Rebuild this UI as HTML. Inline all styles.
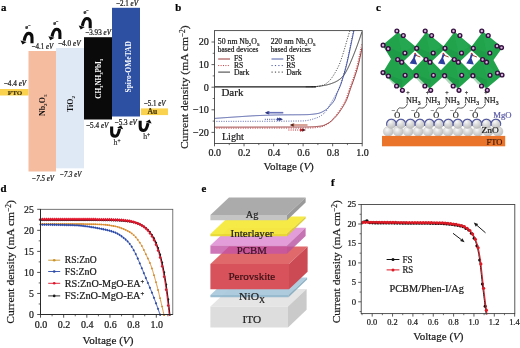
<!DOCTYPE html>
<html><head><meta charset="utf-8"><title>Figure</title>
<style>
html,body{margin:0;padding:0;background:#fff;}
svg{display:block;font-family:'Liberation Serif', serif;}
</style></head>
<body>
<svg width="520" height="348" viewBox="0 0 520 348">
<rect x="0" y="0" width="520" height="348" fill="#ffffff"/>
<g id="panel-a">
<text x="0.9" y="11" font-size="10.8" text-anchor="start" fill="#000" font-weight="bold" font-style="normal" stroke="#000" stroke-width="0.22" >a</text>
<rect x="28.5" y="51" width="27.5" height="120.5" fill="#f6bc9f"/>
<rect x="56" y="48" width="28" height="120.3" fill="#dfe9f6"/>
<rect x="84" y="37.2" width="28" height="82.3" fill="#0a0a0a"/>
<rect x="112" y="7.8" width="28" height="108.7" fill="#2d50a3"/>
<rect x="0" y="89" width="28.5" height="6.5" fill="#fad24e"/>
<rect x="140.8" y="108.4" width="27.2" height="6.7" fill="#fad24e"/>
<text x="3.8" y="86" font-size="7.3" text-anchor="start" fill="#1a1a1a" font-weight="normal" font-style="normal" textLength="22.5" lengthAdjust="spacingAndGlyphs" stroke="#1a1a1a" stroke-width="0.22" >&#8722;4.4 <tspan font-style="italic">eV</tspan></text>
<text x="31.5" y="49.3" font-size="7.3" text-anchor="start" fill="#1a1a1a" font-weight="normal" font-style="normal" textLength="21.8" lengthAdjust="spacingAndGlyphs" stroke="#1a1a1a" stroke-width="0.22" >&#8722;4.1 <tspan font-style="italic">eV</tspan></text>
<text x="58" y="45.9" font-size="7.3" text-anchor="start" fill="#1a1a1a" font-weight="normal" font-style="normal" textLength="22.6" lengthAdjust="spacingAndGlyphs" stroke="#1a1a1a" stroke-width="0.22" >&#8722;4.0 <tspan font-style="italic">eV</tspan></text>
<text x="85.3" y="34.6" font-size="7.3" text-anchor="start" fill="#1a1a1a" font-weight="normal" font-style="normal" textLength="25.7" lengthAdjust="spacingAndGlyphs" stroke="#1a1a1a" stroke-width="0.22" >&#8722;3.93 <tspan font-style="italic">eV</tspan></text>
<text x="116" y="5.6" font-size="7.3" text-anchor="start" fill="#1a1a1a" font-weight="normal" font-style="normal" textLength="22" lengthAdjust="spacingAndGlyphs" stroke="#1a1a1a" stroke-width="0.22" >&#8722;2.1 <tspan font-style="italic">eV</tspan></text>
<text x="143.8" y="105.6" font-size="7.3" text-anchor="start" fill="#1a1a1a" font-weight="normal" font-style="normal" textLength="21.8" lengthAdjust="spacingAndGlyphs" stroke="#1a1a1a" stroke-width="0.22" >&#8722;5.1 <tspan font-style="italic">eV</tspan></text>
<text x="86" y="127.5" font-size="7.3" text-anchor="start" fill="#1a1a1a" font-weight="normal" font-style="normal" textLength="22.5" lengthAdjust="spacingAndGlyphs" stroke="#1a1a1a" stroke-width="0.22" >&#8722;5.4 <tspan font-style="italic">eV</tspan></text>
<text x="114.6" y="124.8" font-size="7.3" text-anchor="start" fill="#1a1a1a" font-weight="normal" font-style="normal" textLength="22.4" lengthAdjust="spacingAndGlyphs" stroke="#1a1a1a" stroke-width="0.22" >&#8722;5.3 <tspan font-style="italic">eV</tspan></text>
<text x="31.5" y="180.5" font-size="7.3" text-anchor="start" fill="#1a1a1a" font-weight="normal" font-style="italic" textLength="22.5" lengthAdjust="spacingAndGlyphs" stroke="#1a1a1a" stroke-width="0.22" >&#8722;7.5 eV</text>
<text x="59.5" y="176.8" font-size="7.3" text-anchor="start" fill="#1a1a1a" font-weight="normal" font-style="italic" textLength="21.8" lengthAdjust="spacingAndGlyphs" stroke="#1a1a1a" stroke-width="0.22" >&#8722;7.3 eV</text>
<text x="15" y="95" font-size="7" text-anchor="middle" fill="#4a3a10" font-weight="bold" font-style="normal" stroke="#4a3a10" stroke-width="0.22" >FTO</text>
<text x="152.3" y="114.2" font-size="7.6" text-anchor="middle" fill="#4a3a10" font-weight="bold" font-style="normal" stroke="#4a3a10" stroke-width="0.22" >Au</text>
<text transform="translate(45,105.3) rotate(-90)" font-size="7.6" text-anchor="middle" fill="#111" font-weight="bold" textLength="21.6" lengthAdjust="spacingAndGlyphs">Nb<tspan font-size="65%" baseline-shift="-1.5px">2</tspan>O<tspan font-size="65%" baseline-shift="-1.5px">5</tspan></text>
<text transform="translate(73.2,104) rotate(-90)" font-size="7.6" text-anchor="middle" fill="#111" font-weight="bold" textLength="16" lengthAdjust="spacingAndGlyphs">TiO<tspan font-size="65%" baseline-shift="-1.5px">2</tspan></text>
<text transform="translate(101,78.8) rotate(-90)" font-size="7.6" text-anchor="middle" fill="#fff" font-weight="bold" textLength="40" lengthAdjust="spacingAndGlyphs">CH<tspan font-size="65%" baseline-shift="-1.5px">3</tspan>NH<tspan font-size="65%" baseline-shift="-1.5px">3</tspan>PbI<tspan font-size="65%" baseline-shift="-1.5px">3</tspan></text>
<text transform="translate(130.6,66.8) rotate(-90)" font-size="7.8" text-anchor="middle" fill="#fff" font-weight="bold" textLength="51.5" lengthAdjust="spacingAndGlyphs">Spiro-OMeTAD</text>
<path d="M32.00 43.20 L32.00 37.40 C32.00 34.40,30.60 33.40,28.40 33.40 C26.20 33.40,25.10 36.00,24.10 40.80" fill="none" stroke="#0c0c0c" stroke-width="3.1"/>
<polygon points="22.50,44.50 20.50,40.40 26.60,42.00" fill="#0c0c0c" stroke="none" stroke-width="0" opacity="1"/>
<text x="25.3" y="29.3" font-size="6.4" text-anchor="start" fill="#222" font-weight="bold" font-style="normal" stroke="#222" stroke-width="0.22" >e<tspan font-size="70%" baseline-shift="1.9px">&#8722;</tspan></text>
<path d="M59.90 39.00 L59.90 33.20 C59.90 30.20,58.50 29.20,56.30 29.20 C54.10 29.20,53.00 31.80,52.00 36.60" fill="none" stroke="#0c0c0c" stroke-width="3.1"/>
<polygon points="50.40,40.30 48.40,36.20 54.50,37.80" fill="#0c0c0c" stroke="none" stroke-width="0" opacity="1"/>
<text x="53.2" y="25.1" font-size="6.4" text-anchor="start" fill="#222" font-weight="bold" font-style="normal" stroke="#222" stroke-width="0.22" >e<tspan font-size="70%" baseline-shift="1.9px">&#8722;</tspan></text>
<path d="M90.20 28.30 L90.20 22.50 C90.20 19.50,88.80 18.50,86.60 18.50 C84.40 18.50,83.30 21.10,82.30 25.90" fill="none" stroke="#0c0c0c" stroke-width="3.1"/>
<polygon points="80.70,29.60 78.70,25.50 84.80,27.10" fill="#0c0c0c" stroke="none" stroke-width="0" opacity="1"/>
<text x="83.5" y="14.4" font-size="6.4" text-anchor="start" fill="#222" font-weight="bold" font-style="normal" stroke="#222" stroke-width="0.22" >e<tspan font-size="70%" baseline-shift="1.9px">&#8722;</tspan></text>
<path d="M111.65 126.50 L111.65 132.30 C111.65 135.30,113.05 136.30,115.25 136.30 C117.45 136.30,118.55 133.70,119.55 128.90" fill="none" stroke="#0c0c0c" stroke-width="3.1"/>
<polygon points="121.15,125.20 123.15,129.30 117.05,127.70" fill="#0c0c0c" stroke="none" stroke-width="0" opacity="1"/>
<path d="M140.15 120.70 L140.15 126.50 C140.15 129.50,141.55 130.50,143.75 130.50 C145.95 130.50,147.05 127.90,148.05 123.10" fill="none" stroke="#0c0c0c" stroke-width="3.1"/>
<polygon points="149.65,119.40 151.65,123.50 145.55,121.90" fill="#0c0c0c" stroke="none" stroke-width="0" opacity="1"/>
<text x="113.5" y="144.8" font-size="7.8" text-anchor="start" fill="#3a3a3a" font-weight="normal" font-style="normal" stroke="#3a3a3a" stroke-width="0.22" >h<tspan font-size="70%" baseline-shift="2.4px">+</tspan></text>
<text x="143.2" y="138.8" font-size="7.8" text-anchor="start" fill="#3a3a3a" font-weight="normal" font-style="normal" stroke="#3a3a3a" stroke-width="0.22" >h<tspan font-size="70%" baseline-shift="2.4px">+</tspan></text>
</g>
<g id="panel-b">
<text x="175.3" y="11.2" font-size="10.8" text-anchor="start" fill="#000" font-weight="bold" font-style="normal" stroke="#000" stroke-width="0.22" >b</text>
<clipPath id="clipb"><rect x="214.5" y="30.6" width="147.7" height="112.9"/></clipPath>
<path d="M311.68 86.72 L311.85 86.71 L312.02 86.71 L312.18 86.70 L312.35 86.70 L312.52 86.69 L312.69 86.68 L312.85 86.68 L313.02 86.67 L313.19 86.67 L313.36 86.66 L313.53 86.66 L313.69 86.65 L313.86 86.64 L314.03 86.64 L314.20 86.63 L314.36 86.62 L314.53 86.62 L314.70 86.61 L314.87 86.60 L315.03 86.59 L315.20 86.59 L315.37 86.58 L315.54 86.57 L315.71 86.56 L315.87 86.56 L316.04 86.55 L316.21 86.54 L316.38 86.53 L316.54 86.52 L316.71 86.51 L316.88 86.50 L317.05 86.50 L317.22 86.49 L317.38 86.48 L317.55 86.47 L317.72 86.46 L317.89 86.45 L318.05 86.43 L318.22 86.41 L318.39 86.39 L318.56 86.37 L318.72 86.35 L318.89 86.32 L319.06 86.29 L319.23 86.26 L319.40 86.23 L319.56 86.19 L319.73 86.15 L319.90 86.11 L320.07 86.07 L320.23 86.03 L320.40 85.99 L320.57 85.94 L320.74 85.90 L320.91 85.85 L321.07 85.80 L321.24 85.75 L321.41 85.69 L321.58 85.64 L321.74 85.59 L321.91 85.53 L322.08 85.47 L322.25 85.42 L322.41 85.36 L322.58 85.30 L322.75 85.24 L322.92 85.18 L323.09 85.12 L323.25 85.06 L323.42 85.00 L323.59 84.93 L323.76 84.86 L323.92 84.79 L324.09 84.72 L324.26 84.64 L324.43 84.55 L324.60 84.47 L324.76 84.38 L324.93 84.29 L325.10 84.19 L325.27 84.09 L325.43 83.99 L325.60 83.88 L325.77 83.77 L325.94 83.66 L326.11 83.55 L326.27 83.43 L326.44 83.31 L326.61 83.19 L326.78 83.07 L326.94 82.94 L327.11 82.81 L327.28 82.68 L327.45 82.55 L327.61 82.41 L327.78 82.27 L327.95 82.14 L328.12 81.99 L328.29 81.85 L328.45 81.71 L328.62 81.56 L328.79 81.41 L328.96 81.26 L329.12 81.11 L329.29 80.95 L329.46 80.78 L329.63 80.60 L329.80 80.42 L329.96 80.23 L330.13 80.04 L330.30 79.84 L330.47 79.63 L330.63 79.42 L330.80 79.20 L330.97 78.98 L331.14 78.76 L331.30 78.53 L331.47 78.30 L331.64 78.06 L331.81 77.82 L331.98 77.58 L332.14 77.34 L332.31 77.10 L332.48 76.85 L332.65 76.60 L332.81 76.35 L332.98 76.11 L333.15 75.86 L333.32 75.61 L333.49 75.35 L333.65 75.09 L333.82 74.83 L333.99 74.56 L334.16 74.29 L334.32 74.02 L334.49 73.74 L334.66 73.46 L334.83 73.17 L334.99 72.88 L335.16 72.59 L335.33 72.30 L335.50 72.00 L335.67 71.70 L335.83 71.40 L336.00 71.09 L336.17 70.78 L336.34 70.47 L336.50 70.16 L336.67 69.84 L336.84 69.53 L337.01 69.21 L337.18 68.88 L337.34 68.56 L337.51 68.24 L337.68 67.91 L337.85 67.57 L338.01 67.24 L338.18 66.89 L338.35 66.55 L338.52 66.19 L338.69 65.83 L338.85 65.45 L339.02 65.07 L339.19 64.68 L339.36 64.28 L339.52 63.86 L339.69 63.44 L339.86 63.02 L340.03 62.58 L340.19 62.14 L340.36 61.69 L340.53 61.23 L340.70 60.77 L340.87 60.30 L341.03 59.83 L341.20 59.34 L341.37 58.86 L341.54 58.36 L341.70 57.86 L341.87 57.36 L342.04 56.85 L342.21 56.34 L342.38 55.82 L342.54 55.29 L342.71 54.76 L342.88 54.23 L343.05 53.69 L343.21 53.15 L343.38 52.61 L343.55 52.06 L343.72 51.51 L343.88 50.95 L344.05 50.40 L344.22 49.84 L344.39 49.27 L344.56 48.71 L344.72 48.14 L344.89 47.57 L345.06 47.00 L345.23 46.43 L345.39 45.85 L345.56 45.28 L345.73 44.70 L345.90 44.12 L346.07 43.54 L346.23 42.96 L346.40 42.38 L346.57 41.80 L346.74 41.22 L346.90 40.64 L347.07 40.06 L347.24 39.48 L347.41 38.91 L347.57 38.33 L347.74 37.75 L347.91 37.18 L348.08 36.60 L348.25 36.03 L348.41 35.46 L348.58 34.89 L348.75 34.33 L348.92 33.76 L349.08 33.20 L349.25 32.64 L349.42 32.09 L349.59 31.54 L349.76 30.99 L349.92 30.44 L350.09 29.89 L350.26 29.35 L350.43 28.80 L350.59 28.25 L350.76 27.70 L350.93 27.14 L351.10 26.59 L351.27 26.04 L351.43 25.60 L351.60 25.60 L351.77 25.60 L351.94 25.60 L352.10 25.60 L352.27 25.60 L352.44 25.60 L352.61 25.60 L352.77 25.60 L352.94 25.60 L353.11 25.60 L353.28 25.60 L353.45 25.60 L353.61 25.60 L353.78 25.60 L353.95 25.60 L354.12 25.60 L354.28 25.60 L354.45 25.60 L354.62 25.60 L354.79 25.60 L354.96 25.60 L355.12 25.60 L355.29 25.60 L355.46 25.60 L355.63 25.60 L355.79 25.60 L355.96 25.60 L356.13 25.60 L356.30 25.60 L356.46 25.60 L356.63 25.60 L356.80 25.60 L356.97 25.60 L357.14 25.60 L357.30 25.60 L357.47 25.60 L357.64 25.60 L357.81 25.60 L357.97 25.60 L358.14 25.60 L358.31 25.60 L358.48 25.60 L358.65 25.60 L358.81 25.60 L358.98 25.60 L359.15 25.60 L359.32 25.60 L359.48 25.60 L359.65 25.60 L359.82 25.60 L359.99 25.60 L360.15 25.60 L360.32 25.60 L360.49 25.60 L360.66 25.60 L360.83 25.60 L360.99 25.60 L361.16 25.60 L361.33 25.60 L361.50 25.60 L361.66 25.60 L361.83 25.60 L362.00 25.60" fill="none" stroke="#222" stroke-width="1.0" stroke-dasharray="1 1.6" clip-path="url(#clipb)" stroke-linejoin="round"/>
<path d="M305.76 86.79 L305.95 86.79 L306.13 86.78 L306.32 86.78 L306.51 86.78 L306.70 86.78 L306.88 86.78 L307.07 86.77 L307.26 86.77 L307.45 86.77 L307.63 86.77 L307.82 86.77 L308.01 86.76 L308.20 86.76 L308.38 86.76 L308.57 86.75 L308.76 86.75 L308.95 86.75 L309.13 86.75 L309.32 86.74 L309.51 86.74 L309.70 86.74 L309.88 86.73 L310.07 86.73 L310.26 86.73 L310.45 86.72 L310.63 86.72 L310.82 86.72 L311.01 86.71 L311.20 86.71 L311.38 86.70 L311.57 86.70 L311.76 86.70 L311.95 86.69 L312.13 86.69 L312.32 86.69 L312.51 86.68 L312.70 86.68 L312.88 86.67 L313.07 86.67 L313.26 86.66 L313.45 86.66 L313.63 86.65 L313.82 86.65 L314.01 86.64 L314.20 86.63 L314.38 86.62 L314.57 86.61 L314.76 86.60 L314.95 86.59 L315.13 86.58 L315.32 86.57 L315.51 86.55 L315.70 86.54 L315.88 86.53 L316.07 86.51 L316.26 86.50 L316.45 86.48 L316.63 86.46 L316.82 86.45 L317.01 86.43 L317.20 86.41 L317.38 86.39 L317.57 86.37 L317.76 86.35 L317.95 86.33 L318.13 86.31 L318.32 86.29 L318.51 86.27 L318.70 86.25 L318.88 86.23 L319.07 86.20 L319.26 86.18 L319.45 86.16 L319.63 86.13 L319.82 86.11 L320.01 86.08 L320.19 86.06 L320.38 86.03 L320.57 86.01 L320.76 85.98 L320.94 85.96 L321.13 85.93 L321.32 85.90 L321.51 85.87 L321.69 85.85 L321.88 85.82 L322.07 85.79 L322.26 85.76 L322.44 85.74 L322.63 85.71 L322.82 85.68 L323.01 85.65 L323.19 85.62 L323.38 85.59 L323.57 85.56 L323.76 85.53 L323.94 85.50 L324.13 85.47 L324.32 85.44 L324.51 85.40 L324.69 85.37 L324.88 85.33 L325.07 85.30 L325.26 85.26 L325.44 85.22 L325.63 85.18 L325.82 85.14 L326.01 85.10 L326.19 85.06 L326.38 85.01 L326.57 84.97 L326.76 84.92 L326.94 84.88 L327.13 84.83 L327.32 84.78 L327.51 84.73 L327.69 84.68 L327.88 84.63 L328.07 84.58 L328.26 84.53 L328.44 84.48 L328.63 84.42 L328.82 84.37 L329.01 84.31 L329.19 84.26 L329.38 84.20 L329.57 84.14 L329.76 84.08 L329.94 84.02 L330.13 83.96 L330.32 83.90 L330.51 83.84 L330.69 83.77 L330.88 83.71 L331.07 83.65 L331.26 83.58 L331.44 83.51 L331.63 83.45 L331.82 83.38 L332.01 83.31 L332.19 83.24 L332.38 83.17 L332.57 83.10 L332.76 83.03 L332.94 82.95 L333.13 82.88 L333.32 82.81 L333.51 82.73 L333.69 82.66 L333.88 82.58 L334.07 82.50 L334.25 82.42 L334.44 82.34 L334.63 82.27 L334.82 82.18 L335.00 82.10 L335.19 82.02 L335.38 81.93 L335.57 81.84 L335.75 81.75 L335.94 81.66 L336.13 81.56 L336.32 81.47 L336.50 81.37 L336.69 81.26 L336.88 81.16 L337.07 81.05 L337.25 80.94 L337.44 80.83 L337.63 80.71 L337.82 80.60 L338.00 80.48 L338.19 80.36 L338.38 80.23 L338.57 80.10 L338.75 79.97 L338.94 79.84 L339.13 79.71 L339.32 79.57 L339.50 79.43 L339.69 79.29 L339.88 79.14 L340.07 78.99 L340.25 78.84 L340.44 78.69 L340.63 78.53 L340.82 78.38 L341.00 78.21 L341.19 78.05 L341.38 77.88 L341.57 77.71 L341.75 77.54 L341.94 77.36 L342.13 77.18 L342.32 77.00 L342.50 76.82 L342.69 76.63 L342.88 76.44 L343.07 76.24 L343.25 76.03 L343.44 75.81 L343.63 75.57 L343.82 75.32 L344.00 75.06 L344.19 74.79 L344.38 74.51 L344.57 74.22 L344.75 73.92 L344.94 73.61 L345.13 73.30 L345.32 72.98 L345.50 72.65 L345.69 72.32 L345.88 71.98 L346.07 71.64 L346.25 71.29 L346.44 70.95 L346.63 70.60 L346.82 70.24 L347.00 69.89 L347.19 69.54 L347.38 69.18 L347.57 68.83 L347.75 68.47 L347.94 68.10 L348.13 67.73 L348.31 67.34 L348.50 66.95 L348.69 66.56 L348.88 66.16 L349.06 65.75 L349.25 65.34 L349.44 64.92 L349.63 64.49 L349.81 64.07 L350.00 63.64 L350.19 63.20 L350.38 62.77 L350.56 62.33 L350.75 61.88 L350.94 61.44 L351.13 60.99 L351.31 60.54 L351.50 60.10 L351.69 59.65 L351.88 59.20 L352.06 58.75 L352.25 58.30 L352.44 57.85 L352.63 57.39 L352.81 56.93 L353.00 56.47 L353.19 56.01 L353.38 55.54 L353.56 55.08 L353.75 54.61 L353.94 54.13 L354.13 53.66 L354.31 53.18 L354.50 52.70 L354.69 52.22 L354.88 51.73 L355.06 51.24 L355.25 50.75 L355.44 50.26 L355.63 49.77 L355.81 49.27 L356.00 48.78 L356.19 48.28 L356.38 47.78 L356.56 47.27 L356.75 46.77 L356.94 46.26 L357.13 45.75 L357.31 45.25 L357.50 44.73 L357.69 44.22 L357.88 43.71 L358.06 43.19 L358.25 42.67 L358.44 42.14 L358.63 41.61 L358.81 41.08 L359.00 40.54 L359.19 40.00 L359.38 39.46 L359.56 38.92 L359.75 38.37 L359.94 37.82 L360.13 37.27 L360.31 36.72 L360.50 36.17 L360.69 35.61 L360.88 35.06 L361.06 34.50 L361.25 33.94 L361.44 33.39 L361.63 32.83 L361.81 32.27 L362.00 31.72" fill="none" stroke="#222" stroke-width="0.9" clip-path="url(#clipb)" stroke-linejoin="round"/>
<path d="M214.00 121.36 L214.49 121.36 L214.99 121.36 L215.48 121.36 L215.97 121.36 L216.47 121.36 L216.96 121.36 L217.45 121.36 L217.95 121.36 L218.44 121.36 L218.93 121.36 L219.43 121.36 L219.92 121.36 L220.41 121.36 L220.91 121.36 L221.40 121.36 L221.89 121.36 L222.39 121.36 L222.88 121.36 L223.37 121.36 L223.87 121.36 L224.36 121.36 L224.85 121.36 L225.35 121.36 L225.84 121.36 L226.33 121.36 L226.83 121.36 L227.32 121.36 L227.81 121.36 L228.31 121.36 L228.80 121.36 L229.29 121.36 L229.79 121.35 L230.28 121.35 L230.77 121.35 L231.27 121.35 L231.76 121.35 L232.25 121.35 L232.75 121.35 L233.24 121.35 L233.73 121.35 L234.23 121.35 L234.72 121.35 L235.21 121.35 L235.71 121.35 L236.20 121.35 L236.69 121.34 L237.19 121.34 L237.68 121.34 L238.17 121.34 L238.67 121.34 L239.16 121.34 L239.65 121.34 L240.15 121.34 L240.64 121.34 L241.13 121.34 L241.63 121.34 L242.12 121.34 L242.61 121.33 L243.11 121.33 L243.60 121.33 L244.09 121.33 L244.59 121.33 L245.08 121.33 L245.57 121.33 L246.07 121.33 L246.56 121.33 L247.05 121.33 L247.55 121.32 L248.04 121.32 L248.53 121.32 L249.03 121.32 L249.52 121.32 L250.01 121.32 L250.51 121.32 L251.00 121.32 L251.49 121.32 L251.99 121.31 L252.48 121.31 L252.97 121.31 L253.47 121.31 L253.96 121.31 L254.45 121.31 L254.95 121.31 L255.44 121.31 L255.93 121.30 L256.43 121.30 L256.92 121.30 L257.41 121.30 L257.91 121.30 L258.40 121.30 L258.89 121.30 L259.39 121.30 L259.88 121.29 L260.37 121.29 L260.87 121.29 L261.36 121.29 L261.85 121.29 L262.35 121.29 L262.84 121.29 L263.33 121.28 L263.83 121.28 L264.32 121.28 L264.81 121.28 L265.31 121.28 L265.80 121.28 L266.29 121.28 L266.79 121.27 L267.28 121.27 L267.77 121.27 L268.27 121.27 L268.76 121.27 L269.25 121.26 L269.75 121.26 L270.24 121.26 L270.73 121.26 L271.23 121.26 L271.72 121.25 L272.21 121.25 L272.71 121.25 L273.20 121.25 L273.69 121.24 L274.19 121.24 L274.68 121.24 L275.17 121.24 L275.67 121.23 L276.16 121.23 L276.65 121.23 L277.15 121.23 L277.64 121.22 L278.13 121.22 L278.63 121.22 L279.12 121.21 L279.61 121.21 L280.11 121.21 L280.60 121.20 L281.09 121.20 L281.59 121.20 L282.08 121.19 L282.57 121.19 L283.07 121.18 L283.56 121.18 L284.05 121.17 L284.55 121.17 L285.04 121.17 L285.53 121.16 L286.03 121.16 L286.52 121.15 L287.01 121.15 L287.51 121.14 L288.00 121.14 L288.49 121.13 L288.99 121.13 L289.48 121.12 L289.97 121.12 L290.47 121.11 L290.96 121.10 L291.45 121.10 L291.95 121.09 L292.44 121.09 L292.93 121.08 L293.43 121.07 L293.92 121.07 L294.41 121.06 L294.91 121.05 L295.40 121.04 L295.89 121.04 L296.39 121.03 L296.88 121.02 L297.37 121.01 L297.87 121.01 L298.36 121.00 L298.85 120.99 L299.35 120.98 L299.84 120.97 L300.33 120.96 L300.83 120.96 L301.32 120.95 L301.81 120.94 L302.31 120.93 L302.80 120.92 L303.29 120.90 L303.79 120.88 L304.28 120.85 L304.77 120.81 L305.27 120.76 L305.76 120.70 L306.25 120.64 L306.75 120.56 L307.24 120.48 L307.73 120.39 L308.23 120.30 L308.72 120.20 L309.21 120.09 L309.71 119.98 L310.20 119.86 L310.69 119.73 L311.19 119.60 L311.68 119.47 L312.17 119.33 L312.67 119.18 L313.16 119.03 L313.65 118.88 L314.15 118.72 L314.64 118.56 L315.13 118.39 L315.63 118.22 L316.12 118.05 L316.61 117.88 L317.11 117.70 L317.60 117.52 L318.09 117.32 L318.59 117.10 L319.08 116.86 L319.57 116.60 L320.07 116.31 L320.56 116.01 L321.05 115.68 L321.55 115.33 L322.04 114.97 L322.53 114.58 L323.03 114.18 L323.52 113.75 L324.01 113.31 L324.51 112.85 L325.00 112.37 L325.49 111.88 L325.99 111.33 L326.48 110.68 L326.97 109.94 L327.47 109.13 L327.96 108.27 L328.45 107.38 L328.95 106.48 L329.44 105.59 L329.93 104.72 L330.43 103.89 L330.92 103.07 L331.41 102.24 L331.91 101.41 L332.40 100.57 L332.89 99.72 L333.39 98.85 L333.88 97.97 L334.37 97.08 L334.87 96.18 L335.36 95.28 L335.85 94.38 L336.35 93.50 L336.84 92.64 L337.33 91.78 L337.83 90.89 L338.32 89.92 L338.81 88.86 L339.31 87.73 L339.80 86.52 L340.29 85.24 L340.79 83.88 L341.28 82.40 L341.77 80.84 L342.27 79.20 L342.76 77.52 L343.25 75.83 L343.75 74.14 L344.24 72.44 L344.73 70.71 L345.23 68.91 L345.72 67.02 L346.21 65.02 L346.71 62.93 L347.20 60.76 L347.69 58.52 L348.19 56.22 L348.68 53.87 L349.17 51.48 L349.67 49.06 L350.16 46.62 L350.65 44.18 L351.15 41.73 L351.64 39.30 L352.13 36.90 L352.63 34.53 L353.12 32.20 L353.61 29.92 L354.11 27.67 L354.60 25.60 L355.09 25.60 L355.59 25.60 L356.08 25.60 L356.57 25.60 L357.07 25.60 L357.56 25.60 L358.05 25.60 L358.55 25.60 L359.04 25.60 L359.53 25.60 L360.03 25.60 L360.52 25.60 L361.01 25.60 L361.51 25.60 L362.00 25.60" fill="none" stroke="#3b4a9c" stroke-width="0.9" stroke-dasharray="1 1.4" clip-path="url(#clipb)" stroke-linejoin="round"/>
<path d="M214.00 118.47 L214.49 118.43 L214.99 118.39 L215.48 118.35 L215.97 118.32 L216.47 118.28 L216.96 118.24 L217.45 118.21 L217.95 118.17 L218.44 118.14 L218.93 118.10 L219.43 118.06 L219.92 118.03 L220.41 117.99 L220.91 117.96 L221.40 117.92 L221.89 117.88 L222.39 117.85 L222.88 117.81 L223.37 117.78 L223.87 117.74 L224.36 117.71 L224.85 117.67 L225.35 117.64 L225.84 117.60 L226.33 117.57 L226.83 117.54 L227.32 117.50 L227.81 117.47 L228.31 117.43 L228.80 117.40 L229.29 117.37 L229.79 117.33 L230.28 117.30 L230.77 117.26 L231.27 117.23 L231.76 117.20 L232.25 117.17 L232.75 117.13 L233.24 117.10 L233.73 117.07 L234.23 117.03 L234.72 117.00 L235.21 116.97 L235.71 116.94 L236.20 116.91 L236.69 116.87 L237.19 116.84 L237.68 116.81 L238.17 116.78 L238.67 116.74 L239.16 116.71 L239.65 116.68 L240.15 116.64 L240.64 116.61 L241.13 116.58 L241.63 116.54 L242.12 116.51 L242.61 116.48 L243.11 116.44 L243.60 116.41 L244.09 116.38 L244.59 116.34 L245.08 116.31 L245.57 116.28 L246.07 116.25 L246.56 116.22 L247.05 116.18 L247.55 116.15 L248.04 116.12 L248.53 116.09 L249.03 116.06 L249.52 116.03 L250.01 116.00 L250.51 115.97 L251.00 115.94 L251.49 115.91 L251.99 115.88 L252.48 115.85 L252.97 115.83 L253.47 115.80 L253.96 115.77 L254.45 115.75 L254.95 115.72 L255.44 115.70 L255.93 115.68 L256.43 115.65 L256.92 115.63 L257.41 115.61 L257.91 115.59 L258.40 115.57 L258.89 115.55 L259.39 115.53 L259.88 115.51 L260.37 115.49 L260.87 115.47 L261.36 115.45 L261.85 115.43 L262.35 115.41 L262.84 115.39 L263.33 115.37 L263.83 115.36 L264.32 115.34 L264.81 115.32 L265.31 115.30 L265.80 115.28 L266.29 115.27 L266.79 115.25 L267.28 115.23 L267.77 115.22 L268.27 115.20 L268.76 115.18 L269.25 115.17 L269.75 115.15 L270.24 115.14 L270.73 115.12 L271.23 115.11 L271.72 115.09 L272.21 115.08 L272.71 115.06 L273.20 115.05 L273.69 115.04 L274.19 115.03 L274.68 115.01 L275.17 115.00 L275.67 114.99 L276.16 114.98 L276.65 114.97 L277.15 114.96 L277.64 114.95 L278.13 114.94 L278.63 114.93 L279.12 114.92 L279.61 114.91 L280.11 114.91 L280.60 114.90 L281.09 114.89 L281.59 114.89 L282.08 114.88 L282.57 114.87 L283.07 114.87 L283.56 114.86 L284.05 114.86 L284.55 114.85 L285.04 114.85 L285.53 114.85 L286.03 114.84 L286.52 114.84 L287.01 114.83 L287.51 114.83 L288.00 114.83 L288.49 114.83 L288.99 114.82 L289.48 114.82 L289.97 114.82 L290.47 114.81 L290.96 114.81 L291.45 114.81 L291.95 114.81 L292.44 114.80 L292.93 114.80 L293.43 114.80 L293.92 114.80 L294.41 114.79 L294.91 114.79 L295.40 114.79 L295.89 114.78 L296.39 114.78 L296.88 114.78 L297.37 114.77 L297.87 114.77 L298.36 114.77 L298.85 114.76 L299.35 114.76 L299.84 114.75 L300.33 114.75 L300.83 114.74 L301.32 114.74 L301.81 114.73 L302.31 114.73 L302.80 114.72 L303.29 114.71 L303.79 114.71 L304.28 114.70 L304.77 114.69 L305.27 114.68 L305.76 114.67 L306.25 114.66 L306.75 114.65 L307.24 114.63 L307.73 114.61 L308.23 114.59 L308.72 114.56 L309.21 114.53 L309.71 114.49 L310.20 114.45 L310.69 114.41 L311.19 114.37 L311.68 114.32 L312.17 114.27 L312.67 114.22 L313.16 114.16 L313.65 114.10 L314.15 114.04 L314.64 113.98 L315.13 113.91 L315.63 113.84 L316.12 113.77 L316.61 113.69 L317.11 113.62 L317.60 113.53 L318.09 113.44 L318.59 113.32 L319.08 113.18 L319.57 113.03 L320.07 112.85 L320.56 112.66 L321.05 112.46 L321.55 112.24 L322.04 112.00 L322.53 111.75 L323.03 111.49 L323.52 111.22 L324.01 110.94 L324.51 110.65 L325.00 110.36 L325.49 110.05 L325.99 109.73 L326.48 109.35 L326.97 108.93 L327.47 108.47 L327.96 107.98 L328.45 107.47 L328.95 106.93 L329.44 106.38 L329.93 105.82 L330.43 105.25 L330.92 104.70 L331.41 104.15 L331.91 103.60 L332.40 103.03 L332.89 102.42 L333.39 101.76 L333.88 101.02 L334.37 100.20 L334.87 99.18 L335.36 97.94 L335.85 96.57 L336.35 95.16 L336.84 93.80 L337.33 92.57 L337.83 91.42 L338.32 90.31 L338.81 89.23 L339.31 88.12 L339.80 86.97 L340.29 85.75 L340.79 84.43 L341.28 83.01 L341.77 81.50 L342.27 79.93 L342.76 78.32 L343.25 76.69 L343.75 75.06 L344.24 73.41 L344.73 71.72 L345.23 69.97 L345.72 68.13 L346.21 66.19 L346.71 64.18 L347.20 62.10 L347.69 59.96 L348.19 57.77 L348.68 55.53 L349.17 53.25 L349.67 50.93 L350.16 48.60 L350.65 46.24 L351.15 43.88 L351.64 41.51 L352.13 39.15 L352.63 36.80 L353.12 34.47 L353.61 32.17 L354.11 29.90 L354.60 27.63 L355.09 25.60 L355.59 25.60 L356.08 25.60 L356.57 25.60 L357.07 25.60 L357.56 25.60 L358.05 25.60 L358.55 25.60 L359.04 25.60 L359.53 25.60 L360.03 25.60 L360.52 25.60 L361.01 25.60 L361.51 25.60 L362.00 25.60" fill="none" stroke="#3b4a9c" stroke-width="0.9" clip-path="url(#clipb)" stroke-linejoin="round"/>
<path d="M214.00 128.28 L214.49 128.28 L214.99 128.28 L215.48 128.28 L215.97 128.28 L216.47 128.28 L216.96 128.27 L217.45 128.27 L217.95 128.27 L218.44 128.27 L218.93 128.27 L219.43 128.27 L219.92 128.27 L220.41 128.27 L220.91 128.27 L221.40 128.27 L221.89 128.27 L222.39 128.27 L222.88 128.27 L223.37 128.27 L223.87 128.27 L224.36 128.27 L224.85 128.26 L225.35 128.26 L225.84 128.26 L226.33 128.26 L226.83 128.26 L227.32 128.26 L227.81 128.26 L228.31 128.26 L228.80 128.26 L229.29 128.26 L229.79 128.26 L230.28 128.26 L230.77 128.26 L231.27 128.25 L231.76 128.25 L232.25 128.25 L232.75 128.25 L233.24 128.25 L233.73 128.25 L234.23 128.25 L234.72 128.25 L235.21 128.25 L235.71 128.25 L236.20 128.25 L236.69 128.25 L237.19 128.24 L237.68 128.24 L238.17 128.24 L238.67 128.24 L239.16 128.24 L239.65 128.24 L240.15 128.24 L240.64 128.24 L241.13 128.24 L241.63 128.24 L242.12 128.24 L242.61 128.23 L243.11 128.23 L243.60 128.23 L244.09 128.23 L244.59 128.23 L245.08 128.23 L245.57 128.23 L246.07 128.23 L246.56 128.23 L247.05 128.23 L247.55 128.22 L248.04 128.22 L248.53 128.22 L249.03 128.22 L249.52 128.22 L250.01 128.22 L250.51 128.22 L251.00 128.22 L251.49 128.22 L251.99 128.22 L252.48 128.21 L252.97 128.21 L253.47 128.21 L253.96 128.21 L254.45 128.21 L254.95 128.21 L255.44 128.21 L255.93 128.21 L256.43 128.21 L256.92 128.20 L257.41 128.20 L257.91 128.20 L258.40 128.20 L258.89 128.20 L259.39 128.20 L259.88 128.20 L260.37 128.20 L260.87 128.20 L261.36 128.19 L261.85 128.19 L262.35 128.19 L262.84 128.19 L263.33 128.19 L263.83 128.19 L264.32 128.19 L264.81 128.19 L265.31 128.19 L265.80 128.18 L266.29 128.18 L266.79 128.18 L267.28 128.18 L267.77 128.18 L268.27 128.18 L268.76 128.18 L269.25 128.18 L269.75 128.17 L270.24 128.17 L270.73 128.17 L271.23 128.17 L271.72 128.17 L272.21 128.17 L272.71 128.17 L273.20 128.17 L273.69 128.17 L274.19 128.16 L274.68 128.16 L275.17 128.16 L275.67 128.16 L276.16 128.16 L276.65 128.16 L277.15 128.16 L277.64 128.16 L278.13 128.16 L278.63 128.16 L279.12 128.15 L279.61 128.15 L280.11 128.15 L280.60 128.15 L281.09 128.15 L281.59 128.15 L282.08 128.15 L282.57 128.15 L283.07 128.15 L283.56 128.15 L284.05 128.15 L284.55 128.14 L285.04 128.14 L285.53 128.14 L286.03 128.14 L286.52 128.14 L287.01 128.14 L287.51 128.14 L288.00 128.14 L288.49 128.14 L288.99 128.14 L289.48 128.13 L289.97 128.13 L290.47 128.13 L290.96 128.13 L291.45 128.13 L291.95 128.13 L292.44 128.13 L292.93 128.13 L293.43 128.12 L293.92 128.12 L294.41 128.12 L294.91 128.12 L295.40 128.12 L295.89 128.12 L296.39 128.12 L296.88 128.11 L297.37 128.11 L297.87 128.11 L298.36 128.11 L298.85 128.11 L299.35 128.10 L299.84 128.10 L300.33 128.10 L300.83 128.10 L301.32 128.10 L301.81 128.09 L302.31 128.09 L302.80 128.09 L303.29 128.09 L303.79 128.08 L304.28 128.08 L304.77 128.08 L305.27 128.07 L305.76 128.07 L306.25 128.07 L306.75 128.07 L307.24 128.06 L307.73 128.06 L308.23 128.06 L308.72 128.05 L309.21 128.04 L309.71 128.03 L310.20 128.02 L310.69 128.00 L311.19 127.98 L311.68 127.95 L312.17 127.93 L312.67 127.90 L313.16 127.87 L313.65 127.83 L314.15 127.79 L314.64 127.75 L315.13 127.71 L315.63 127.66 L316.12 127.62 L316.61 127.57 L317.11 127.51 L317.60 127.46 L318.09 127.40 L318.59 127.34 L319.08 127.28 L319.57 127.22 L320.07 127.15 L320.56 127.07 L321.05 126.96 L321.55 126.84 L322.04 126.69 L322.53 126.53 L323.03 126.35 L323.52 126.15 L324.01 125.94 L324.51 125.71 L325.00 125.47 L325.49 125.22 L325.99 124.96 L326.48 124.68 L326.97 124.40 L327.47 124.11 L327.96 123.82 L328.45 123.49 L328.95 123.12 L329.44 122.70 L329.93 122.24 L330.43 121.75 L330.92 121.23 L331.41 120.68 L331.91 120.11 L332.40 119.53 L332.89 118.93 L333.39 118.33 L333.88 117.72 L334.37 117.12 L334.87 116.52 L335.36 115.92 L335.85 115.31 L336.35 114.68 L336.84 114.04 L337.33 113.39 L337.83 112.72 L338.32 112.04 L338.81 111.34 L339.31 110.62 L339.80 109.90 L340.29 109.15 L340.79 108.39 L341.28 107.62 L341.77 106.85 L342.27 106.05 L342.76 105.24 L343.25 104.39 L343.75 103.51 L344.24 102.59 L344.73 101.62 L345.23 100.59 L345.72 99.48 L346.21 98.26 L346.71 96.93 L347.20 95.52 L347.69 94.06 L348.19 92.56 L348.68 91.06 L349.17 89.57 L349.67 88.11 L350.16 86.71 L350.65 85.34 L351.15 83.99 L351.64 82.65 L352.13 81.29 L352.63 79.92 L353.12 78.52 L353.61 77.07 L354.11 75.57 L354.60 74.03 L355.09 72.45 L355.59 70.83 L356.08 69.16 L356.57 67.42 L357.07 65.60 L357.56 63.69 L358.05 61.63 L358.55 59.45 L359.04 57.16 L359.53 54.81 L360.03 52.44 L360.52 50.08 L361.01 47.77 L361.51 45.47 L362.00 43.17" fill="none" stroke="#c0272d" stroke-width="0.9" stroke-dasharray="1 1.4" clip-path="url(#clipb)" stroke-linejoin="round"/>
<path d="M214.00 127.16 L214.49 127.16 L214.99 127.16 L215.48 127.16 L215.97 127.16 L216.47 127.16 L216.96 127.16 L217.45 127.16 L217.95 127.16 L218.44 127.16 L218.93 127.16 L219.43 127.16 L219.92 127.16 L220.41 127.16 L220.91 127.15 L221.40 127.15 L221.89 127.15 L222.39 127.15 L222.88 127.15 L223.37 127.15 L223.87 127.15 L224.36 127.15 L224.85 127.15 L225.35 127.15 L225.84 127.15 L226.33 127.15 L226.83 127.15 L227.32 127.15 L227.81 127.14 L228.31 127.14 L228.80 127.14 L229.29 127.14 L229.79 127.14 L230.28 127.14 L230.77 127.14 L231.27 127.14 L231.76 127.14 L232.25 127.14 L232.75 127.14 L233.24 127.14 L233.73 127.14 L234.23 127.13 L234.72 127.13 L235.21 127.13 L235.71 127.13 L236.20 127.13 L236.69 127.13 L237.19 127.13 L237.68 127.13 L238.17 127.13 L238.67 127.13 L239.16 127.13 L239.65 127.12 L240.15 127.12 L240.64 127.12 L241.13 127.12 L241.63 127.12 L242.12 127.12 L242.61 127.12 L243.11 127.12 L243.60 127.12 L244.09 127.12 L244.59 127.12 L245.08 127.11 L245.57 127.11 L246.07 127.11 L246.56 127.11 L247.05 127.11 L247.55 127.11 L248.04 127.11 L248.53 127.11 L249.03 127.11 L249.52 127.11 L250.01 127.10 L250.51 127.10 L251.00 127.10 L251.49 127.10 L251.99 127.10 L252.48 127.10 L252.97 127.10 L253.47 127.10 L253.96 127.10 L254.45 127.09 L254.95 127.09 L255.44 127.09 L255.93 127.09 L256.43 127.09 L256.92 127.09 L257.41 127.09 L257.91 127.09 L258.40 127.09 L258.89 127.08 L259.39 127.08 L259.88 127.08 L260.37 127.08 L260.87 127.08 L261.36 127.08 L261.85 127.08 L262.35 127.08 L262.84 127.08 L263.33 127.07 L263.83 127.07 L264.32 127.07 L264.81 127.07 L265.31 127.07 L265.80 127.07 L266.29 127.07 L266.79 127.07 L267.28 127.07 L267.77 127.06 L268.27 127.06 L268.76 127.06 L269.25 127.06 L269.75 127.06 L270.24 127.06 L270.73 127.06 L271.23 127.06 L271.72 127.06 L272.21 127.05 L272.71 127.05 L273.20 127.05 L273.69 127.05 L274.19 127.05 L274.68 127.05 L275.17 127.05 L275.67 127.05 L276.16 127.04 L276.65 127.04 L277.15 127.04 L277.64 127.04 L278.13 127.04 L278.63 127.04 L279.12 127.04 L279.61 127.04 L280.11 127.04 L280.60 127.04 L281.09 127.04 L281.59 127.03 L282.08 127.03 L282.57 127.03 L283.07 127.03 L283.56 127.03 L284.05 127.03 L284.55 127.03 L285.04 127.03 L285.53 127.03 L286.03 127.03 L286.52 127.03 L287.01 127.02 L287.51 127.02 L288.00 127.02 L288.49 127.02 L288.99 127.02 L289.48 127.02 L289.97 127.02 L290.47 127.02 L290.96 127.02 L291.45 127.01 L291.95 127.01 L292.44 127.01 L292.93 127.01 L293.43 127.01 L293.92 127.01 L294.41 127.01 L294.91 127.00 L295.40 127.00 L295.89 127.00 L296.39 127.00 L296.88 127.00 L297.37 127.00 L297.87 126.99 L298.36 126.99 L298.85 126.99 L299.35 126.99 L299.84 126.99 L300.33 126.98 L300.83 126.98 L301.32 126.98 L301.81 126.98 L302.31 126.98 L302.80 126.97 L303.29 126.97 L303.79 126.97 L304.28 126.97 L304.77 126.96 L305.27 126.96 L305.76 126.96 L306.25 126.95 L306.75 126.95 L307.24 126.95 L307.73 126.94 L308.23 126.94 L308.72 126.94 L309.21 126.93 L309.71 126.92 L310.20 126.91 L310.69 126.89 L311.19 126.87 L311.68 126.85 L312.17 126.83 L312.67 126.81 L313.16 126.78 L313.65 126.75 L314.15 126.72 L314.64 126.68 L315.13 126.65 L315.63 126.61 L316.12 126.57 L316.61 126.53 L317.11 126.48 L317.60 126.43 L318.09 126.38 L318.59 126.33 L319.08 126.28 L319.57 126.22 L320.07 126.16 L320.56 126.10 L321.05 126.04 L321.55 125.96 L322.04 125.86 L322.53 125.74 L323.03 125.59 L323.52 125.42 L324.01 125.24 L324.51 125.04 L325.00 124.82 L325.49 124.59 L325.99 124.35 L326.48 124.10 L326.97 123.84 L327.47 123.57 L327.96 123.29 L328.45 123.01 L328.95 122.73 L329.44 122.43 L329.93 122.11 L330.43 121.75 L330.92 121.37 L331.41 120.97 L331.91 120.54 L332.40 120.10 L332.89 119.63 L333.39 119.15 L333.88 118.66 L334.37 118.15 L334.87 117.63 L335.36 117.10 L335.85 116.57 L336.35 116.02 L336.84 115.44 L337.33 114.83 L337.83 114.20 L338.32 113.55 L338.81 112.87 L339.31 112.17 L339.80 111.46 L340.29 110.73 L340.79 109.99 L341.28 109.23 L341.77 108.47 L342.27 107.70 L342.76 106.92 L343.25 106.13 L343.75 105.32 L344.24 104.48 L344.73 103.60 L345.23 102.68 L345.72 101.72 L346.21 100.70 L346.71 99.60 L347.20 98.38 L347.69 97.06 L348.19 95.66 L348.68 94.21 L349.17 92.71 L349.67 91.21 L350.16 89.71 L350.65 88.25 L351.15 86.84 L351.64 85.47 L352.13 84.12 L352.63 82.78 L353.12 81.43 L353.61 80.06 L354.11 78.66 L354.60 77.22 L355.09 75.72 L355.59 74.18 L356.08 72.61 L356.57 71.00 L357.07 69.33 L357.56 67.60 L358.05 65.79 L358.55 63.89 L359.04 61.85 L359.53 59.67 L360.03 57.39 L360.52 55.05 L361.01 52.68 L361.51 50.32 L362.00 48.00" fill="none" stroke="#8c1f1f" stroke-width="0.9" clip-path="url(#clipb)" stroke-linejoin="round"/>
<line x1="214.5" y1="86.9" x2="316.12" y2="86.9" stroke="#1a1a1a" stroke-width="1.15"/>
<rect x="214.5" y="30.6" width="147.7" height="112.9" fill="none" stroke="#444" stroke-width="0.9"/>
<line x1="211.5" y1="42.00000000000001" x2="214.5" y2="42.00000000000001" stroke="#333" stroke-width="0.8"/>
<text x="208.9" y="45.300000000000004" font-size="10.2" text-anchor="end" fill="#1a1a1a" font-weight="normal" font-style="normal" stroke="#1a1a1a" stroke-width="0.22" >20</text>
<line x1="211.5" y1="64.60000000000001" x2="214.5" y2="64.60000000000001" stroke="#333" stroke-width="0.8"/>
<text x="208.9" y="67.9" font-size="10.2" text-anchor="end" fill="#1a1a1a" font-weight="normal" font-style="normal" stroke="#1a1a1a" stroke-width="0.22" >10</text>
<line x1="211.5" y1="87.2" x2="214.5" y2="87.2" stroke="#333" stroke-width="0.8"/>
<text x="208.9" y="90.5" font-size="10.2" text-anchor="end" fill="#1a1a1a" font-weight="normal" font-style="normal" stroke="#1a1a1a" stroke-width="0.22" >0</text>
<line x1="211.5" y1="109.8" x2="214.5" y2="109.8" stroke="#333" stroke-width="0.8"/>
<text x="208.9" y="113.1" font-size="10.2" text-anchor="end" fill="#1a1a1a" font-weight="normal" font-style="normal" stroke="#1a1a1a" stroke-width="0.22" >&#8722;10</text>
<line x1="211.5" y1="132.4" x2="214.5" y2="132.4" stroke="#333" stroke-width="0.8"/>
<text x="208.9" y="135.70000000000002" font-size="10.2" text-anchor="end" fill="#1a1a1a" font-weight="normal" font-style="normal" stroke="#1a1a1a" stroke-width="0.22" >&#8722;20</text>
<line x1="212.7" y1="53.300000000000004" x2="214.5" y2="53.300000000000004" stroke="#333" stroke-width="0.7"/>
<line x1="212.7" y1="75.9" x2="214.5" y2="75.9" stroke="#333" stroke-width="0.7"/>
<line x1="212.7" y1="98.5" x2="214.5" y2="98.5" stroke="#333" stroke-width="0.7"/>
<line x1="212.7" y1="121.1" x2="214.5" y2="121.1" stroke="#333" stroke-width="0.7"/>
<line x1="214.5" y1="143.5" x2="214.5" y2="146.3" stroke="#333" stroke-width="0.8"/>
<text x="214.8" y="156" font-size="10.0" text-anchor="middle" fill="#1a1a1a" font-weight="normal" font-style="normal" stroke="#1a1a1a" stroke-width="0.22" >0.0</text>
<line x1="244.04" y1="143.5" x2="244.04" y2="146.3" stroke="#333" stroke-width="0.8"/>
<text x="244.34" y="156" font-size="10.0" text-anchor="middle" fill="#1a1a1a" font-weight="normal" font-style="normal" stroke="#1a1a1a" stroke-width="0.22" >0.2</text>
<line x1="273.58" y1="143.5" x2="273.58" y2="146.3" stroke="#333" stroke-width="0.8"/>
<text x="273.88" y="156" font-size="10.0" text-anchor="middle" fill="#1a1a1a" font-weight="normal" font-style="normal" stroke="#1a1a1a" stroke-width="0.22" >0.4</text>
<line x1="303.12" y1="143.5" x2="303.12" y2="146.3" stroke="#333" stroke-width="0.8"/>
<text x="303.42" y="156" font-size="10.0" text-anchor="middle" fill="#1a1a1a" font-weight="normal" font-style="normal" stroke="#1a1a1a" stroke-width="0.22" >0.6</text>
<line x1="332.65999999999997" y1="143.5" x2="332.65999999999997" y2="146.3" stroke="#333" stroke-width="0.8"/>
<text x="332.96" y="156" font-size="10.0" text-anchor="middle" fill="#1a1a1a" font-weight="normal" font-style="normal" stroke="#1a1a1a" stroke-width="0.22" >0.8</text>
<line x1="362.2" y1="143.5" x2="362.2" y2="146.3" stroke="#333" stroke-width="0.8"/>
<text x="362.5" y="156" font-size="10.0" text-anchor="middle" fill="#1a1a1a" font-weight="normal" font-style="normal" stroke="#1a1a1a" stroke-width="0.22" >1.0</text>
<line x1="229.27" y1="143.5" x2="229.27" y2="145.1" stroke="#333" stroke-width="0.7"/>
<line x1="258.81" y1="143.5" x2="258.81" y2="145.1" stroke="#333" stroke-width="0.7"/>
<line x1="288.35" y1="143.5" x2="288.35" y2="145.1" stroke="#333" stroke-width="0.7"/>
<line x1="317.89" y1="143.5" x2="317.89" y2="145.1" stroke="#333" stroke-width="0.7"/>
<line x1="347.43" y1="143.5" x2="347.43" y2="145.1" stroke="#333" stroke-width="0.7"/>
<text x="263.5" y="170.4" font-size="11" text-anchor="start" fill="#1a1a1a" font-weight="normal" font-style="normal" textLength="50.3" lengthAdjust="spacingAndGlyphs" stroke="#1a1a1a" stroke-width="0.22" >Voltage (<tspan font-style="italic">V</tspan>)</text>
<text transform="translate(187.6,149.1) rotate(-90)" font-size="11.3" textLength="123.8" lengthAdjust="spacingAndGlyphs" stroke="#1a1a1a" stroke-width="0.2" fill="#1a1a1a">Current density (mA cm<tspan font-size="65%" baseline-shift="3.2px">&#8722;2</tspan>)</text>
<text x="217.8" y="43.5" font-size="7.6" text-anchor="start" fill="#1a1a1a" font-weight="normal" font-style="normal" textLength="41.7" lengthAdjust="spacingAndGlyphs" stroke="#1a1a1a" stroke-width="0.22" >50 nm Nb<tspan font-size="65%" baseline-shift="-1.6px">2</tspan>O<tspan font-size="65%" baseline-shift="-1.6px">5</tspan></text>
<text x="217.8" y="52" font-size="7.6" text-anchor="start" fill="#1a1a1a" font-weight="normal" font-style="normal" textLength="40.6" lengthAdjust="spacingAndGlyphs" stroke="#1a1a1a" stroke-width="0.22" >based devices</text>
<text x="270.7" y="43.5" font-size="7.6" text-anchor="start" fill="#1a1a1a" font-weight="normal" font-style="normal" textLength="44.8" lengthAdjust="spacingAndGlyphs" stroke="#1a1a1a" stroke-width="0.22" >220 nm Nb<tspan font-size="65%" baseline-shift="-1.6px">2</tspan>O<tspan font-size="65%" baseline-shift="-1.6px">5</tspan></text>
<text x="270.7" y="52" font-size="7.6" text-anchor="start" fill="#1a1a1a" font-weight="normal" font-style="normal" textLength="40.1" lengthAdjust="spacingAndGlyphs" stroke="#1a1a1a" stroke-width="0.22" >based devices</text>
<line x1="218.2" y1="59.0" x2="230" y2="59.0" stroke="#8c1f1f" stroke-width="0.9"/>
<text x="234" y="61.4" font-size="7.6" text-anchor="start" fill="#1a1a1a" font-weight="normal" font-style="normal" stroke="#1a1a1a" stroke-width="0.22" >FS</text>
<line x1="271.5" y1="59.0" x2="283.3" y2="59.0" stroke="#3b4a9c" stroke-width="0.9"/>
<text x="286.3" y="61.4" font-size="7.6" text-anchor="start" fill="#1a1a1a" font-weight="normal" font-style="normal" stroke="#1a1a1a" stroke-width="0.22" >FS</text>
<line x1="218.2" y1="65.55" x2="230" y2="65.55" stroke="#c0272d" stroke-width="0.9" stroke-dasharray="1 1.4"/>
<text x="234" y="67.95" font-size="7.6" text-anchor="start" fill="#1a1a1a" font-weight="normal" font-style="normal" stroke="#1a1a1a" stroke-width="0.22" >RS</text>
<line x1="271.5" y1="65.55" x2="283.3" y2="65.55" stroke="#3b4a9c" stroke-width="0.9" stroke-dasharray="1.2 2.2"/>
<text x="286.3" y="67.95" font-size="7.6" text-anchor="start" fill="#1a1a1a" font-weight="normal" font-style="normal" stroke="#1a1a1a" stroke-width="0.22" >RS</text>
<line x1="218.2" y1="72.1" x2="230" y2="72.1" stroke="#222" stroke-width="0.9"/>
<text x="234" y="74.5" font-size="7.6" text-anchor="start" fill="#1a1a1a" font-weight="normal" font-style="normal" stroke="#1a1a1a" stroke-width="0.22" >Dark</text>
<line x1="271.5" y1="72.1" x2="283.3" y2="72.1" stroke="#222" stroke-width="0.9" stroke-dasharray="1.2 2.2"/>
<text x="286.3" y="74.5" font-size="7.6" text-anchor="start" fill="#1a1a1a" font-weight="normal" font-style="normal" stroke="#1a1a1a" stroke-width="0.22" >Dark</text>
<text x="221.4" y="95.7" font-size="10.6" text-anchor="start" fill="#1a1a1a" font-weight="normal" font-style="normal" textLength="22" lengthAdjust="spacingAndGlyphs" stroke="#1a1a1a" stroke-width="0.22" >Dark</text>
<text x="221.9" y="139.6" font-size="10.6" text-anchor="start" fill="#1a1a1a" font-weight="normal" font-style="normal" textLength="22" lengthAdjust="spacingAndGlyphs" stroke="#1a1a1a" stroke-width="0.22" >Light</text>
<line x1="266.5" y1="112.7" x2="283.3" y2="112.7" stroke="#6a73b8" stroke-width="1.6"/>
<polygon points="265.5,112.7 269.5,110.9 269.5,114.5" fill="#6a73b8"/>
<polygon points="264.8,112.7 268.6,110.9 268.6,114.5" fill="#2d3480"/>
<line x1="264.8" y1="119.3" x2="280" y2="119.3" stroke="#3b4a9c" stroke-width="1" stroke-dasharray="1 1.2"/>
<polygon points="281,119.3 277,117.5 277,121.1" fill="#3b4a9c"/>
<polygon points="283,119.3 279.2,117.5 279.2,121.1" fill="#2d3480"/>
<line x1="291.5" y1="125" x2="307.5" y2="125" stroke="#cf8d7c" stroke-width="1.6"/>
<polygon points="290.5,125 294.5,123.2 294.5,126.8" fill="#cf8d7c"/>
<polygon points="289.8,125 293.6,123.2 293.6,126.8" fill="#5a2418"/>
<line x1="288.4" y1="130" x2="303" y2="130" stroke="#c0272d" stroke-width="1" stroke-dasharray="1 1.2"/>
<polygon points="304,130 300,128.2 300,131.8" fill="#c0272d"/>
<polygon points="306,130 302.2,128.2 302.2,131.8" fill="#5a1820"/>
</g>
<g id="panel-c">
<text x="376" y="11.3" font-size="10.8" text-anchor="start" fill="#000" font-weight="bold" font-style="normal" stroke="#000" stroke-width="0.22" >c</text>
<polygon points="382.60,45.00 398.00,32.20 415.20,46.20 426.30,32.00 443.50,46.20 454.60,31.80 471.80,46.20 482.90,31.60 502.50,47.50 493.50,60.00 502.00,75.50 486.40,88.60 472.60,75.50 458.10,88.60 444.30,75.50 429.80,88.60 416.00,75.50 401.50,88.60 382.50,73.00 391.00,59.00" fill="#21a34c" stroke="none" stroke-width="0" opacity="1"/>
<polygon points="397.00,31.00 413.50,46.50 402.00,53.00" fill="#2bb35a" stroke="none" stroke-width="0" opacity="0.3"/>
<polygon points="382.50,45.00 402.00,53.00 401.00,60.50 391.00,58.00" fill="#188c3e" stroke="none" stroke-width="0" opacity="0.35"/>
<polygon points="397.50,60.00 414.00,75.00 402.50,80.00" fill="#2bb35a" stroke="none" stroke-width="0" opacity="0.3"/>
<polygon points="383.00,73.00 402.50,80.00 401.50,89.00 393.00,84.00" fill="#188c3e" stroke="none" stroke-width="0" opacity="0.35"/>
<polygon points="425.30,31.00 441.80,46.50 430.30,53.00" fill="#2bb35a" stroke="none" stroke-width="0" opacity="0.3"/>
<polygon points="410.80,45.00 430.30,53.00 429.30,60.50 419.30,58.00" fill="#188c3e" stroke="none" stroke-width="0" opacity="0.35"/>
<polygon points="425.80,60.00 442.30,75.00 430.80,80.00" fill="#2bb35a" stroke="none" stroke-width="0" opacity="0.3"/>
<polygon points="411.30,73.00 430.80,80.00 429.80,89.00 421.30,84.00" fill="#188c3e" stroke="none" stroke-width="0" opacity="0.35"/>
<polygon points="453.60,31.00 470.10,46.50 458.60,53.00" fill="#2bb35a" stroke="none" stroke-width="0" opacity="0.3"/>
<polygon points="439.10,45.00 458.60,53.00 457.60,60.50 447.60,58.00" fill="#188c3e" stroke="none" stroke-width="0" opacity="0.35"/>
<polygon points="454.10,60.00 470.60,75.00 459.10,80.00" fill="#2bb35a" stroke="none" stroke-width="0" opacity="0.3"/>
<polygon points="439.60,73.00 459.10,80.00 458.10,89.00 449.60,84.00" fill="#188c3e" stroke="none" stroke-width="0" opacity="0.35"/>
<polygon points="481.90,31.00 498.40,46.50 486.90,53.00" fill="#2bb35a" stroke="none" stroke-width="0" opacity="0.3"/>
<polygon points="467.40,45.00 486.90,53.00 485.90,60.50 475.90,58.00" fill="#188c3e" stroke="none" stroke-width="0" opacity="0.35"/>
<polygon points="482.40,60.00 498.90,75.00 487.40,80.00" fill="#2bb35a" stroke="none" stroke-width="0" opacity="0.3"/>
<polygon points="467.90,73.00 487.40,80.00 486.40,89.00 477.90,84.00" fill="#188c3e" stroke="none" stroke-width="0" opacity="0.35"/>
<polygon points="403.70,61.30 415.00,50.60 423.90,58.40 412.60,70.20" fill="#ffffff" stroke="none" stroke-width="0" opacity="1"/>
<polygon points="409.60,63.60 417.20,64.50 414.90,58.20 416.70,54.00 414.20,54.20 413.20,58.00" fill="#2d3f9e" stroke="none" stroke-width="0" opacity="1"/>
<line x1="415.6" y1="55.2" x2="420.3" y2="57" stroke="#8a2a20" stroke-width="0.9"/>
<circle cx="415.1" cy="53.6" r="0.9" fill="#b33"/>
<polygon points="432.00,61.30 443.30,50.60 452.20,58.40 440.90,70.20" fill="#ffffff" stroke="none" stroke-width="0" opacity="1"/>
<polygon points="437.90,63.60 445.50,64.50 443.20,58.20 445.00,54.00 442.50,54.20 441.50,58.00" fill="#2d3f9e" stroke="none" stroke-width="0" opacity="1"/>
<line x1="443.90000000000003" y1="55.2" x2="448.6" y2="57" stroke="#8a2a20" stroke-width="0.9"/>
<circle cx="443.40000000000003" cy="53.6" r="0.9" fill="#b33"/>
<polygon points="460.30,61.30 471.60,50.60 480.50,58.40 469.20,70.20" fill="#ffffff" stroke="none" stroke-width="0" opacity="1"/>
<polygon points="466.20,63.60 473.80,64.50 471.50,58.20 473.30,54.00 470.80,54.20 469.80,58.00" fill="#2d3f9e" stroke="none" stroke-width="0" opacity="1"/>
<line x1="472.20000000000005" y1="55.2" x2="476.90000000000003" y2="57" stroke="#8a2a20" stroke-width="0.9"/>
<circle cx="471.70000000000005" cy="53.6" r="0.9" fill="#b33"/>
<circle cx="396.9" cy="31.0" r="1.9" fill="#dcb4e2" stroke="#34103f" stroke-width="1.4"/>
<circle cx="403.3" cy="35.5" r="1.9" fill="#dcb4e2" stroke="#34103f" stroke-width="1.4"/>
<circle cx="383.1" cy="45.2" r="1.9" fill="#dcb4e2" stroke="#34103f" stroke-width="1.4"/>
<circle cx="388.2" cy="48.7" r="1.9" fill="#dcb4e2" stroke="#34103f" stroke-width="1.4"/>
<circle cx="404.9" cy="53.0" r="1.9" fill="#dcb4e2" stroke="#34103f" stroke-width="1.4"/>
<circle cx="416.7" cy="48.3" r="1.9" fill="#dcb4e2" stroke="#34103f" stroke-width="1.4"/>
<circle cx="397.7" cy="59.5" r="1.9" fill="#dcb4e2" stroke="#34103f" stroke-width="1.4"/>
<circle cx="401.7" cy="62.2" r="1.9" fill="#dcb4e2" stroke="#34103f" stroke-width="1.4"/>
<circle cx="383.0" cy="72.6" r="1.9" fill="#dcb4e2" stroke="#34103f" stroke-width="1.4"/>
<circle cx="388.4" cy="76.0" r="1.9" fill="#dcb4e2" stroke="#34103f" stroke-width="1.4"/>
<circle cx="405.1" cy="75.3" r="1.9" fill="#dcb4e2" stroke="#34103f" stroke-width="1.4"/>
<circle cx="416.3" cy="75.7" r="1.9" fill="#dcb4e2" stroke="#34103f" stroke-width="1.4"/>
<circle cx="396.6" cy="86.0" r="1.9" fill="#dcb4e2" stroke="#34103f" stroke-width="1.4"/>
<circle cx="402.4" cy="90.3" r="1.9" fill="#dcb4e2" stroke="#34103f" stroke-width="1.4"/>
<circle cx="425.2" cy="31.0" r="1.9" fill="#dcb4e2" stroke="#34103f" stroke-width="1.4"/>
<circle cx="431.6" cy="35.5" r="1.9" fill="#dcb4e2" stroke="#34103f" stroke-width="1.4"/>
<circle cx="433.2" cy="53.0" r="1.9" fill="#dcb4e2" stroke="#34103f" stroke-width="1.4"/>
<circle cx="445.0" cy="48.3" r="1.9" fill="#dcb4e2" stroke="#34103f" stroke-width="1.4"/>
<circle cx="426.0" cy="59.5" r="1.9" fill="#dcb4e2" stroke="#34103f" stroke-width="1.4"/>
<circle cx="430.0" cy="62.2" r="1.9" fill="#dcb4e2" stroke="#34103f" stroke-width="1.4"/>
<circle cx="433.4" cy="75.3" r="1.9" fill="#dcb4e2" stroke="#34103f" stroke-width="1.4"/>
<circle cx="444.6" cy="75.7" r="1.9" fill="#dcb4e2" stroke="#34103f" stroke-width="1.4"/>
<circle cx="424.9" cy="86.0" r="1.9" fill="#dcb4e2" stroke="#34103f" stroke-width="1.4"/>
<circle cx="430.7" cy="90.3" r="1.9" fill="#dcb4e2" stroke="#34103f" stroke-width="1.4"/>
<circle cx="453.5" cy="31.0" r="1.9" fill="#dcb4e2" stroke="#34103f" stroke-width="1.4"/>
<circle cx="459.9" cy="35.5" r="1.9" fill="#dcb4e2" stroke="#34103f" stroke-width="1.4"/>
<circle cx="461.5" cy="53.0" r="1.9" fill="#dcb4e2" stroke="#34103f" stroke-width="1.4"/>
<circle cx="473.3" cy="48.3" r="1.9" fill="#dcb4e2" stroke="#34103f" stroke-width="1.4"/>
<circle cx="454.3" cy="59.5" r="1.9" fill="#dcb4e2" stroke="#34103f" stroke-width="1.4"/>
<circle cx="458.3" cy="62.2" r="1.9" fill="#dcb4e2" stroke="#34103f" stroke-width="1.4"/>
<circle cx="461.7" cy="75.3" r="1.9" fill="#dcb4e2" stroke="#34103f" stroke-width="1.4"/>
<circle cx="472.9" cy="75.7" r="1.9" fill="#dcb4e2" stroke="#34103f" stroke-width="1.4"/>
<circle cx="453.2" cy="86.0" r="1.9" fill="#dcb4e2" stroke="#34103f" stroke-width="1.4"/>
<circle cx="459.0" cy="90.3" r="1.9" fill="#dcb4e2" stroke="#34103f" stroke-width="1.4"/>
<circle cx="481.8" cy="31.0" r="1.9" fill="#dcb4e2" stroke="#34103f" stroke-width="1.4"/>
<circle cx="488.2" cy="35.5" r="1.9" fill="#dcb4e2" stroke="#34103f" stroke-width="1.4"/>
<circle cx="489.8" cy="53.0" r="1.9" fill="#dcb4e2" stroke="#34103f" stroke-width="1.4"/>
<circle cx="482.6" cy="59.5" r="1.9" fill="#dcb4e2" stroke="#34103f" stroke-width="1.4"/>
<circle cx="486.6" cy="62.2" r="1.9" fill="#dcb4e2" stroke="#34103f" stroke-width="1.4"/>
<circle cx="490.0" cy="75.3" r="1.9" fill="#dcb4e2" stroke="#34103f" stroke-width="1.4"/>
<circle cx="481.5" cy="86.0" r="1.9" fill="#dcb4e2" stroke="#34103f" stroke-width="1.4"/>
<circle cx="487.3" cy="90.3" r="1.9" fill="#dcb4e2" stroke="#34103f" stroke-width="1.4"/>
<circle cx="497" cy="46" r="1.9" fill="#dcb4e2" stroke="#34103f" stroke-width="1.4"/>
<circle cx="501.5" cy="47.6" r="1.9" fill="#dcb4e2" stroke="#34103f" stroke-width="1.4"/>
<circle cx="497.5" cy="73" r="1.9" fill="#dcb4e2" stroke="#34103f" stroke-width="1.4"/>
<circle cx="502" cy="75" r="1.9" fill="#dcb4e2" stroke="#34103f" stroke-width="1.4"/>
<text x="406.0" y="102.5" font-size="8.3" text-anchor="start" fill="#222" font-weight="normal" font-style="normal" textLength="14.6" lengthAdjust="spacingAndGlyphs" stroke="#222" stroke-width="0.22" >NH<tspan font-size="70%" baseline-shift="-1.8px">3</tspan></text>
<text x="406.3" y="95" font-size="6" text-anchor="start" fill="#333" font-weight="normal" font-style="normal" stroke="#333" stroke-width="0.22" >+</text>
<text x="394.3" y="118.3" font-size="8.3" text-anchor="start" fill="#222" font-weight="normal" font-style="normal" stroke="#222" stroke-width="0.22" >O</text>
<text x="391.7" y="113" font-size="6.5" text-anchor="start" fill="#333" font-weight="normal" font-style="normal" stroke="#333" stroke-width="0.22" >&#8722;</text>
<path d="M407.5 103.5 C406.5 106,405.5 107.5,403.5 108 C401.0 108.6,400.0 107,398.5 108.5 C397.4 109.6,397.2 110.5,397.0 112.2" fill="none" stroke="#333" stroke-width="0.85"/>
<text x="425.5" y="102.5" font-size="8.3" text-anchor="start" fill="#222" font-weight="normal" font-style="normal" textLength="14.6" lengthAdjust="spacingAndGlyphs" stroke="#222" stroke-width="0.22" >NH<tspan font-size="70%" baseline-shift="-1.8px">3</tspan></text>
<text x="425.8" y="95" font-size="6" text-anchor="start" fill="#333" font-weight="normal" font-style="normal" stroke="#333" stroke-width="0.22" >+</text>
<text x="413.8" y="118.3" font-size="8.3" text-anchor="start" fill="#222" font-weight="normal" font-style="normal" stroke="#222" stroke-width="0.22" >O</text>
<text x="411.2" y="113" font-size="6.5" text-anchor="start" fill="#333" font-weight="normal" font-style="normal" stroke="#333" stroke-width="0.22" >&#8722;</text>
<path d="M427.0 103.5 C426.0 106,425.0 107.5,423.0 108 C420.5 108.6,419.5 107,418.0 108.5 C416.9 109.6,416.7 110.5,416.5 112.2" fill="none" stroke="#333" stroke-width="0.85"/>
<text x="445.0" y="102.5" font-size="8.3" text-anchor="start" fill="#222" font-weight="normal" font-style="normal" textLength="14.6" lengthAdjust="spacingAndGlyphs" stroke="#222" stroke-width="0.22" >NH<tspan font-size="70%" baseline-shift="-1.8px">3</tspan></text>
<text x="445.3" y="95" font-size="6" text-anchor="start" fill="#333" font-weight="normal" font-style="normal" stroke="#333" stroke-width="0.22" >+</text>
<text x="433.3" y="118.3" font-size="8.3" text-anchor="start" fill="#222" font-weight="normal" font-style="normal" stroke="#222" stroke-width="0.22" >O</text>
<text x="430.7" y="113" font-size="6.5" text-anchor="start" fill="#333" font-weight="normal" font-style="normal" stroke="#333" stroke-width="0.22" >&#8722;</text>
<path d="M446.5 103.5 C445.5 106,444.5 107.5,442.5 108 C440.0 108.6,439.0 107,437.5 108.5 C436.4 109.6,436.2 110.5,436.0 112.2" fill="none" stroke="#333" stroke-width="0.85"/>
<text x="464.5" y="102.5" font-size="8.3" text-anchor="start" fill="#222" font-weight="normal" font-style="normal" textLength="14.6" lengthAdjust="spacingAndGlyphs" stroke="#222" stroke-width="0.22" >NH<tspan font-size="70%" baseline-shift="-1.8px">3</tspan></text>
<text x="464.8" y="95" font-size="6" text-anchor="start" fill="#333" font-weight="normal" font-style="normal" stroke="#333" stroke-width="0.22" >+</text>
<text x="452.8" y="118.3" font-size="8.3" text-anchor="start" fill="#222" font-weight="normal" font-style="normal" stroke="#222" stroke-width="0.22" >O</text>
<text x="450.2" y="113" font-size="6.5" text-anchor="start" fill="#333" font-weight="normal" font-style="normal" stroke="#333" stroke-width="0.22" >&#8722;</text>
<path d="M466.0 103.5 C465.0 106,464.0 107.5,462.0 108 C459.5 108.6,458.5 107,457.0 108.5 C455.9 109.6,455.7 110.5,455.5 112.2" fill="none" stroke="#333" stroke-width="0.85"/>
<text x="484.0" y="102.5" font-size="8.3" text-anchor="start" fill="#222" font-weight="normal" font-style="normal" textLength="14.6" lengthAdjust="spacingAndGlyphs" stroke="#222" stroke-width="0.22" >NH<tspan font-size="70%" baseline-shift="-1.8px">3</tspan></text>
<text x="484.3" y="95" font-size="6" text-anchor="start" fill="#333" font-weight="normal" font-style="normal" stroke="#333" stroke-width="0.22" >+</text>
<text x="472.3" y="118.3" font-size="8.3" text-anchor="start" fill="#222" font-weight="normal" font-style="normal" stroke="#222" stroke-width="0.22" >O</text>
<text x="469.7" y="113" font-size="6.5" text-anchor="start" fill="#333" font-weight="normal" font-style="normal" stroke="#333" stroke-width="0.22" >&#8722;</text>
<path d="M485.5 103.5 C484.5 106,483.5 107.5,481.5 108 C479.0 108.6,478.0 107,476.5 108.5 C475.4 109.6,475.2 110.5,475.0 112.2" fill="none" stroke="#333" stroke-width="0.85"/>
<defs><radialGradient id="zg" cx="0.38" cy="0.32" r="0.7"><stop offset="0" stop-color="#fafafa"/><stop offset="0.4" stop-color="#dedede"/><stop offset="1" stop-color="#bcbcbc"/></radialGradient></defs>
<circle cx="388.3" cy="131.5" r="5" fill="url(#zg)" stroke="#bdbdbd" stroke-width="0.4"/>
<circle cx="398.3" cy="131.5" r="5" fill="url(#zg)" stroke="#bdbdbd" stroke-width="0.4"/>
<circle cx="408.2" cy="131.5" r="5" fill="url(#zg)" stroke="#bdbdbd" stroke-width="0.4"/>
<circle cx="418.2" cy="131.5" r="5" fill="url(#zg)" stroke="#bdbdbd" stroke-width="0.4"/>
<circle cx="428.2" cy="131.5" r="5" fill="url(#zg)" stroke="#bdbdbd" stroke-width="0.4"/>
<circle cx="438.2" cy="131.5" r="5" fill="url(#zg)" stroke="#bdbdbd" stroke-width="0.4"/>
<circle cx="448.1" cy="131.5" r="5" fill="url(#zg)" stroke="#bdbdbd" stroke-width="0.4"/>
<circle cx="458.1" cy="131.5" r="5" fill="url(#zg)" stroke="#bdbdbd" stroke-width="0.4"/>
<circle cx="468.1" cy="131.5" r="5" fill="url(#zg)" stroke="#bdbdbd" stroke-width="0.4"/>
<circle cx="478.0" cy="131.5" r="5" fill="url(#zg)" stroke="#bdbdbd" stroke-width="0.4"/>
<circle cx="488.0" cy="131.5" r="5" fill="url(#zg)" stroke="#bdbdbd" stroke-width="0.4"/>
<circle cx="498.0" cy="131.5" r="5" fill="url(#zg)" stroke="#bdbdbd" stroke-width="0.4"/>
<circle cx="391.4" cy="123.6" r="4.9" fill="url(#zg)" stroke="#b0b0b8" stroke-width="0.4"/>
<path d="M386.8 125.8 A4.9 4.9 0 1 1 396.0 125.8" fill="none" stroke="#4d549e" stroke-width="1.15"/>
<circle cx="400.9" cy="123.6" r="4.9" fill="url(#zg)" stroke="#b0b0b8" stroke-width="0.4"/>
<path d="M396.3 125.8 A4.9 4.9 0 1 1 405.5 125.8" fill="none" stroke="#4d549e" stroke-width="1.15"/>
<circle cx="410.4" cy="123.6" r="4.9" fill="url(#zg)" stroke="#b0b0b8" stroke-width="0.4"/>
<path d="M405.8 125.8 A4.9 4.9 0 1 1 415.0 125.8" fill="none" stroke="#4d549e" stroke-width="1.15"/>
<circle cx="419.9" cy="123.6" r="4.9" fill="url(#zg)" stroke="#b0b0b8" stroke-width="0.4"/>
<path d="M415.3 125.8 A4.9 4.9 0 1 1 424.5 125.8" fill="none" stroke="#4d549e" stroke-width="1.15"/>
<circle cx="429.4" cy="123.6" r="4.9" fill="url(#zg)" stroke="#b0b0b8" stroke-width="0.4"/>
<path d="M424.8 125.8 A4.9 4.9 0 1 1 434.0 125.8" fill="none" stroke="#4d549e" stroke-width="1.15"/>
<circle cx="438.9" cy="123.6" r="4.9" fill="url(#zg)" stroke="#b0b0b8" stroke-width="0.4"/>
<path d="M434.3 125.8 A4.9 4.9 0 1 1 443.5 125.8" fill="none" stroke="#4d549e" stroke-width="1.15"/>
<circle cx="448.4" cy="123.6" r="4.9" fill="url(#zg)" stroke="#b0b0b8" stroke-width="0.4"/>
<path d="M443.8 125.8 A4.9 4.9 0 1 1 453.0 125.8" fill="none" stroke="#4d549e" stroke-width="1.15"/>
<circle cx="457.9" cy="123.6" r="4.9" fill="url(#zg)" stroke="#b0b0b8" stroke-width="0.4"/>
<path d="M453.3 125.8 A4.9 4.9 0 1 1 462.5 125.8" fill="none" stroke="#4d549e" stroke-width="1.15"/>
<circle cx="467.4" cy="123.6" r="4.9" fill="url(#zg)" stroke="#b0b0b8" stroke-width="0.4"/>
<path d="M462.8 125.8 A4.9 4.9 0 1 1 472.0 125.8" fill="none" stroke="#4d549e" stroke-width="1.15"/>
<circle cx="476.9" cy="123.6" r="4.9" fill="url(#zg)" stroke="#b0b0b8" stroke-width="0.4"/>
<path d="M472.3 125.8 A4.9 4.9 0 1 1 481.5 125.8" fill="none" stroke="#4d549e" stroke-width="1.15"/>
<circle cx="486.4" cy="123.6" r="4.9" fill="url(#zg)" stroke="#b0b0b8" stroke-width="0.4"/>
<path d="M481.8 125.8 A4.9 4.9 0 1 1 491.0 125.8" fill="none" stroke="#4d549e" stroke-width="1.15"/>
<circle cx="495.9" cy="123.6" r="4.9" fill="url(#zg)" stroke="#b0b0b8" stroke-width="0.4"/>
<path d="M491.3 125.8 A4.9 4.9 0 1 1 500.5 125.8" fill="none" stroke="#4d549e" stroke-width="1.15"/>
<rect x="382" y="135.9" width="123.2" height="10.4" fill="#e9742a"/>
<text x="486.5" y="144.5" font-size="8.6" text-anchor="start" fill="#3a1606" font-weight="normal" font-style="normal" textLength="15.8" lengthAdjust="spacingAndGlyphs" stroke="#3a1606" stroke-width="0.22" >FTO</text>
<text x="481.5" y="133" font-size="8.8" text-anchor="start" fill="#222" font-weight="normal" font-style="normal" textLength="17.2" lengthAdjust="spacingAndGlyphs" stroke="#222" stroke-width="0.22" >ZnO</text>
<text x="493.3" y="117.9" font-size="8.8" text-anchor="start" fill="#5a5aa6" font-weight="normal" font-style="normal" textLength="18.3" lengthAdjust="spacingAndGlyphs" stroke="#5a5aa6" stroke-width="0.22" >MgO</text>
</g>
<g id="panel-d">
<text x="0.6" y="191.7" font-size="10.8" text-anchor="start" fill="#000" font-weight="bold" font-style="normal" stroke="#000" stroke-width="0.22" >d</text>
<clipPath id="clipd"><rect x="38.5" y="209.3" width="134.3" height="106.69999999999999"/></clipPath>
<path d="M40.50 224.03 L40.81 224.03 L41.12 224.03 L41.43 224.03 L41.75 224.03 L42.06 224.03 L42.37 224.03 L42.68 224.03 L42.99 224.03 L43.30 224.03 L43.62 224.03 L43.93 224.03 L44.24 224.03 L44.55 224.03 L44.86 224.03 L45.17 224.03 L45.48 224.03 L45.80 224.03 L46.11 224.03 L46.42 224.03 L46.73 224.03 L47.04 224.03 L47.35 224.03 L47.67 224.03 L47.98 224.03 L48.29 224.03 L48.60 224.03 L48.91 224.03 L49.22 224.03 L49.53 224.03 L49.85 224.03 L50.16 224.03 L50.47 224.03 L50.78 224.03 L51.09 224.03 L51.40 224.03 L51.72 224.03 L52.03 224.03 L52.34 224.03 L52.65 224.03 L52.96 224.03 L53.27 224.03 L53.58 224.03 L53.90 224.03 L54.21 224.03 L54.52 224.03 L54.83 224.03 L55.14 224.03 L55.45 224.03 L55.77 224.03 L56.08 224.03 L56.39 224.03 L56.70 224.03 L57.01 224.03 L57.32 224.03 L57.64 224.03 L57.95 224.03 L58.26 224.03 L58.57 224.03 L58.88 224.03 L59.19 224.03 L59.50 224.03 L59.82 224.03 L60.13 224.03 L60.44 224.03 L60.75 224.03 L61.06 224.03 L61.37 224.03 L61.69 224.03 L62.00 224.03 L62.31 224.03 L62.62 224.03 L62.93 224.03 L63.24 224.03 L63.55 224.03 L63.87 224.03 L64.18 224.03 L64.49 224.03 L64.80 224.03 L65.11 224.03 L65.42 224.03 L65.74 224.03 L66.05 224.03 L66.36 224.03 L66.67 224.03 L66.98 224.03 L67.29 224.03 L67.60 224.03 L67.92 224.03 L68.23 224.03 L68.54 224.03 L68.85 224.03 L69.16 224.03 L69.47 224.03 L69.79 224.03 L70.10 224.03 L70.41 224.03 L70.72 224.03 L71.03 224.03 L71.34 224.03 L71.65 224.03 L71.97 224.03 L72.28 224.03 L72.59 224.03 L72.90 224.03 L73.21 224.03 L73.52 224.03 L73.84 224.03 L74.15 224.03 L74.46 224.03 L74.77 224.03 L75.08 224.03 L75.39 224.03 L75.70 224.03 L76.02 224.03 L76.33 224.03 L76.64 224.03 L76.95 224.03 L77.26 224.03 L77.57 224.03 L77.89 224.03 L78.20 224.03 L78.51 224.04 L78.82 224.04 L79.13 224.04 L79.44 224.04 L79.75 224.04 L80.07 224.04 L80.38 224.05 L80.69 224.05 L81.00 224.05 L81.31 224.05 L81.62 224.06 L81.94 224.06 L82.25 224.06 L82.56 224.07 L82.87 224.07 L83.18 224.07 L83.49 224.08 L83.81 224.08 L84.12 224.08 L84.43 224.09 L84.74 224.09 L85.05 224.10 L85.36 224.10 L85.67 224.11 L85.99 224.11 L86.30 224.11 L86.61 224.12 L86.92 224.12 L87.23 224.13 L87.54 224.13 L87.86 224.14 L88.17 224.15 L88.48 224.15 L88.79 224.16 L89.10 224.16 L89.41 224.17 L89.72 224.17 L90.04 224.18 L90.35 224.19 L90.66 224.19 L90.97 224.20 L91.28 224.21 L91.59 224.21 L91.91 224.22 L92.22 224.23 L92.53 224.23 L92.84 224.24 L93.15 224.25 L93.46 224.26 L93.77 224.26 L94.09 224.27 L94.40 224.28 L94.71 224.29 L95.02 224.30 L95.33 224.30 L95.64 224.31 L95.96 224.32 L96.27 224.33 L96.58 224.34 L96.89 224.35 L97.20 224.35 L97.51 224.36 L97.82 224.37 L98.14 224.38 L98.45 224.39 L98.76 224.40 L99.07 224.41 L99.38 224.42 L99.69 224.43 L100.01 224.44 L100.32 224.45 L100.63 224.46 L100.94 224.47 L101.25 224.48 L101.56 224.50 L101.87 224.51 L102.19 224.53 L102.50 224.55 L102.81 224.57 L103.12 224.60 L103.43 224.62 L103.74 224.64 L104.06 224.67 L104.37 224.70 L104.68 224.73 L104.99 224.76 L105.30 224.79 L105.61 224.82 L105.92 224.86 L106.24 224.89 L106.55 224.93 L106.86 224.97 L107.17 225.00 L107.48 225.04 L107.79 225.08 L108.11 225.13 L108.42 225.17 L108.73 225.21 L109.04 225.26 L109.35 225.30 L109.66 225.35 L109.97 225.40 L110.29 225.44 L110.60 225.49 L110.91 225.54 L111.22 225.59 L111.53 225.65 L111.84 225.70 L112.16 225.75 L112.47 225.80 L112.78 225.86 L113.09 225.91 L113.40 225.97 L113.71 226.03 L114.03 226.08 L114.34 226.14 L114.65 226.20 L114.96 226.25 L115.27 226.31 L115.58 226.37 L115.89 226.44 L116.21 226.50 L116.52 226.58 L116.83 226.65 L117.14 226.73 L117.45 226.82 L117.76 226.90 L118.08 226.99 L118.39 227.09 L118.70 227.18 L119.01 227.28 L119.32 227.39 L119.63 227.49 L119.94 227.60 L120.26 227.71 L120.57 227.82 L120.88 227.94 L121.19 228.06 L121.50 228.17 L121.81 228.29 L122.13 228.42 L122.44 228.54 L122.75 228.66 L123.06 228.79 L123.37 228.92 L123.68 229.05 L123.99 229.17 L124.31 229.31 L124.62 229.44 L124.93 229.57 L125.24 229.71 L125.55 229.85 L125.86 230.00 L126.18 230.14 L126.49 230.29 L126.80 230.45 L127.11 230.60 L127.42 230.76 L127.73 230.93 L128.04 231.10 L128.36 231.27 L128.67 231.44 L128.98 231.63 L129.29 231.81 L129.60 232.00 L129.91 232.19 L130.23 232.39 L130.54 232.60 L130.85 232.81 L131.16 233.02 L131.47 233.24 L131.78 233.47 L132.09 233.70 L132.41 233.95 L132.72 234.20 L133.03 234.47 L133.34 234.74 L133.65 235.03 L133.96 235.33 L134.28 235.65 L134.59 235.97 L134.90 236.30 L135.21 236.64 L135.52 236.99 L135.83 237.36 L136.14 237.73 L136.46 238.10 L136.77 238.49 L137.08 238.89 L137.39 239.29 L137.70 239.70 L138.01 240.12 L138.33 240.55 L138.64 240.98 L138.95 241.42 L139.26 241.87 L139.57 242.32 L139.88 242.77 L140.19 243.24 L140.51 243.70 L140.82 244.19 L141.13 244.70 L141.44 245.24 L141.75 245.79 L142.06 246.36 L142.38 246.96 L142.69 247.56 L143.00 248.18 L143.31 248.82 L143.62 249.46 L143.93 250.12 L144.25 250.78 L144.56 251.44 L144.87 252.11 L145.18 252.78 L145.49 253.46 L145.80 254.13 L146.11 254.79 L146.43 255.46 L146.74 256.11 L147.05 256.76 L147.36 257.40 L147.67 258.04 L147.98 258.69 L148.30 259.34 L148.61 259.99 L148.92 260.66 L149.23 261.35 L149.54 262.06 L149.85 262.79 L150.16 263.55 L150.48 264.34 L150.79 265.16 L151.10 266.01 L151.41 266.90 L151.72 267.81 L152.03 268.76 L152.35 269.72 L152.66 270.71 L152.97 271.72 L153.28 272.75 L153.59 273.80 L153.90 274.86 L154.21 275.94 L154.53 277.03 L154.84 278.13 L155.15 279.23 L155.46 280.35 L155.77 281.46 L156.08 282.58 L156.40 283.71 L156.71 284.85 L157.02 286.01 L157.33 287.19 L157.64 288.39 L157.95 289.61 L158.26 290.85 L158.58 292.09 L158.89 293.35 L159.20 294.62 L159.51 295.89 L159.82 297.17 L160.13 298.45 L160.45 299.73 L160.76 301.02 L161.07 302.31 L161.38 303.61 L161.69 304.92 L162.00 306.24 L162.31 307.58 L162.63 308.92 L162.94 310.28 L163.25 311.65 L163.56 313.04 L163.87 314.44 L164.18 315.87 L164.50 317.33 L164.81 318.82 L165.12 320.32" fill="none" stroke="#d98a2b" stroke-width="0.9" clip-path="url(#clipd)" stroke-linejoin="round"/>
<g fill="#d98a2b" clip-path="url(#clipd)"><circle cx="40.50" cy="224.03" r="0.95"/><circle cx="42.53" cy="224.03" r="0.95"/><circle cx="44.55" cy="224.03" r="0.95"/><circle cx="46.58" cy="224.03" r="0.95"/><circle cx="48.61" cy="224.03" r="0.95"/><circle cx="50.63" cy="224.03" r="0.95"/><circle cx="52.66" cy="224.03" r="0.95"/><circle cx="54.69" cy="224.03" r="0.95"/><circle cx="56.71" cy="224.03" r="0.95"/><circle cx="58.74" cy="224.03" r="0.95"/><circle cx="60.77" cy="224.03" r="0.95"/><circle cx="62.79" cy="224.03" r="0.95"/><circle cx="64.82" cy="224.03" r="0.95"/><circle cx="66.84" cy="224.03" r="0.95"/><circle cx="68.87" cy="224.03" r="0.95"/><circle cx="70.90" cy="224.03" r="0.95"/><circle cx="72.92" cy="224.03" r="0.95"/><circle cx="74.95" cy="224.03" r="0.95"/><circle cx="76.98" cy="224.03" r="0.95"/><circle cx="79.00" cy="224.04" r="0.95"/><circle cx="81.03" cy="224.05" r="0.95"/><circle cx="83.06" cy="224.07" r="0.95"/><circle cx="85.08" cy="224.10" r="0.95"/><circle cx="87.11" cy="224.13" r="0.95"/><circle cx="89.14" cy="224.16" r="0.95"/><circle cx="91.16" cy="224.20" r="0.95"/><circle cx="93.19" cy="224.25" r="0.95"/><circle cx="95.22" cy="224.30" r="0.95"/><circle cx="97.24" cy="224.36" r="0.95"/><circle cx="99.27" cy="224.41" r="0.95"/><circle cx="101.30" cy="224.49" r="0.95"/><circle cx="103.32" cy="224.61" r="0.95"/><circle cx="105.35" cy="224.79" r="0.95"/><circle cx="107.37" cy="225.03" r="0.95"/><circle cx="109.40" cy="225.31" r="0.95"/><circle cx="111.43" cy="225.63" r="0.95"/><circle cx="113.45" cy="225.98" r="0.95"/><circle cx="115.48" cy="226.35" r="0.95"/><circle cx="117.51" cy="226.83" r="0.95"/><circle cx="119.53" cy="227.46" r="0.95"/><circle cx="121.56" cy="228.20" r="0.95"/><circle cx="123.59" cy="229.01" r="0.95"/><circle cx="125.61" cy="229.88" r="0.95"/><circle cx="127.64" cy="230.88" r="0.95"/><circle cx="129.67" cy="232.04" r="0.95"/><circle cx="131.69" cy="233.40" r="0.95"/><circle cx="133.72" cy="235.10" r="0.95"/><circle cx="135.75" cy="237.25" r="0.95"/><circle cx="137.77" cy="239.80" r="0.95"/><circle cx="139.80" cy="242.65" r="0.95"/><circle cx="141.82" cy="245.92" r="0.95"/><circle cx="143.85" cy="249.94" r="0.95"/><circle cx="145.88" cy="254.29" r="0.95"/><circle cx="147.90" cy="258.52" r="0.95"/><circle cx="149.93" cy="262.98" r="0.95"/><circle cx="151.96" cy="268.52" r="0.95"/><circle cx="153.98" cy="275.14" r="0.95"/><circle cx="156.01" cy="282.32" r="0.95"/><circle cx="158.04" cy="289.94" r="0.95"/><circle cx="160.06" cy="298.16" r="0.95"/><circle cx="162.09" cy="306.61" r="0.95"/><circle cx="164.12" cy="315.56" r="0.95"/></g>
<path d="M40.50 224.66 L40.80 224.66 L41.10 224.66 L41.41 224.66 L41.71 224.66 L42.01 224.66 L42.31 224.66 L42.61 224.66 L42.91 224.66 L43.22 224.66 L43.52 224.66 L43.82 224.67 L44.12 224.67 L44.42 224.67 L44.72 224.67 L45.03 224.67 L45.33 224.67 L45.63 224.67 L45.93 224.68 L46.23 224.68 L46.54 224.68 L46.84 224.68 L47.14 224.69 L47.44 224.69 L47.74 224.69 L48.04 224.69 L48.35 224.70 L48.65 224.70 L48.95 224.70 L49.25 224.70 L49.55 224.71 L49.85 224.71 L50.16 224.71 L50.46 224.72 L50.76 224.72 L51.06 224.72 L51.36 224.73 L51.66 224.73 L51.97 224.74 L52.27 224.74 L52.57 224.74 L52.87 224.75 L53.17 224.75 L53.48 224.76 L53.78 224.76 L54.08 224.77 L54.38 224.77 L54.68 224.77 L54.98 224.78 L55.29 224.78 L55.59 224.79 L55.89 224.79 L56.19 224.80 L56.49 224.80 L56.79 224.81 L57.10 224.82 L57.40 224.82 L57.70 224.83 L58.00 224.83 L58.30 224.84 L58.61 224.84 L58.91 224.85 L59.21 224.86 L59.51 224.86 L59.81 224.87 L60.11 224.87 L60.42 224.88 L60.72 224.89 L61.02 224.89 L61.32 224.90 L61.62 224.91 L61.92 224.91 L62.23 224.92 L62.53 224.93 L62.83 224.94 L63.13 224.94 L63.43 224.95 L63.73 224.96 L64.04 224.96 L64.34 224.97 L64.64 224.98 L64.94 224.99 L65.24 224.99 L65.55 225.00 L65.85 225.01 L66.15 225.02 L66.45 225.03 L66.75 225.03 L67.05 225.04 L67.36 225.05 L67.66 225.06 L67.96 225.07 L68.26 225.08 L68.56 225.08 L68.86 225.09 L69.17 225.10 L69.47 225.11 L69.77 225.12 L70.07 225.13 L70.37 225.14 L70.68 225.15 L70.98 225.15 L71.28 225.16 L71.58 225.17 L71.88 225.18 L72.18 225.19 L72.49 225.20 L72.79 225.21 L73.09 225.22 L73.39 225.23 L73.69 225.24 L73.99 225.25 L74.30 225.26 L74.60 225.27 L74.90 225.28 L75.20 225.29 L75.50 225.30 L75.80 225.31 L76.11 225.32 L76.41 225.34 L76.71 225.35 L77.01 225.37 L77.31 225.38 L77.62 225.40 L77.92 225.42 L78.22 225.44 L78.52 225.46 L78.82 225.48 L79.12 225.51 L79.43 225.53 L79.73 225.55 L80.03 225.58 L80.33 225.61 L80.63 225.63 L80.93 225.66 L81.24 225.69 L81.54 225.72 L81.84 225.75 L82.14 225.78 L82.44 225.81 L82.75 225.85 L83.05 225.88 L83.35 225.92 L83.65 225.95 L83.95 225.99 L84.25 226.02 L84.56 226.06 L84.86 226.10 L85.16 226.14 L85.46 226.18 L85.76 226.22 L86.06 226.26 L86.37 226.30 L86.67 226.34 L86.97 226.38 L87.27 226.43 L87.57 226.47 L87.88 226.51 L88.18 226.56 L88.48 226.60 L88.78 226.65 L89.08 226.70 L89.38 226.74 L89.69 226.79 L89.99 226.84 L90.29 226.89 L90.59 226.93 L90.89 226.98 L91.19 227.03 L91.50 227.08 L91.80 227.13 L92.10 227.18 L92.40 227.23 L92.70 227.28 L93.00 227.34 L93.31 227.39 L93.61 227.44 L93.91 227.49 L94.21 227.54 L94.51 227.60 L94.82 227.65 L95.12 227.70 L95.42 227.76 L95.72 227.81 L96.02 227.87 L96.32 227.92 L96.63 227.97 L96.93 228.03 L97.23 228.08 L97.53 228.14 L97.83 228.19 L98.13 228.25 L98.44 228.30 L98.74 228.36 L99.04 228.41 L99.34 228.47 L99.64 228.52 L99.95 228.58 L100.25 228.63 L100.55 228.69 L100.85 228.75 L101.15 228.80 L101.45 228.86 L101.76 228.92 L102.06 228.97 L102.36 229.03 L102.66 229.09 L102.96 229.15 L103.26 229.21 L103.57 229.28 L103.87 229.34 L104.17 229.40 L104.47 229.47 L104.77 229.53 L105.07 229.60 L105.38 229.67 L105.68 229.73 L105.98 229.80 L106.28 229.87 L106.58 229.94 L106.89 230.02 L107.19 230.09 L107.49 230.17 L107.79 230.24 L108.09 230.32 L108.39 230.40 L108.70 230.48 L109.00 230.56 L109.30 230.64 L109.60 230.72 L109.90 230.81 L110.20 230.90 L110.51 230.98 L110.81 231.07 L111.11 231.17 L111.41 231.26 L111.71 231.35 L112.02 231.45 L112.32 231.55 L112.62 231.65 L112.92 231.75 L113.22 231.85 L113.52 231.95 L113.83 232.06 L114.13 232.17 L114.43 232.28 L114.73 232.39 L115.03 232.50 L115.33 232.62 L115.64 232.74 L115.94 232.87 L116.24 233.00 L116.54 233.14 L116.84 233.28 L117.14 233.44 L117.45 233.59 L117.75 233.76 L118.05 233.93 L118.35 234.10 L118.65 234.28 L118.96 234.47 L119.26 234.66 L119.56 234.85 L119.86 235.05 L120.16 235.25 L120.46 235.46 L120.77 235.67 L121.07 235.88 L121.37 236.10 L121.67 236.32 L121.97 236.54 L122.27 236.77 L122.58 237.00 L122.88 237.23 L123.18 237.46 L123.48 237.70 L123.78 237.93 L124.09 238.17 L124.39 238.42 L124.69 238.67 L124.99 238.93 L125.29 239.19 L125.59 239.46 L125.90 239.73 L126.20 240.02 L126.50 240.31 L126.80 240.60 L127.10 240.91 L127.40 241.22 L127.71 241.53 L128.01 241.86 L128.31 242.19 L128.61 242.53 L128.91 242.88 L129.21 243.24 L129.52 243.61 L129.82 243.98 L130.12 244.36 L130.42 244.77 L130.72 245.19 L131.03 245.62 L131.33 246.08 L131.63 246.55 L131.93 247.03 L132.23 247.53 L132.53 248.05 L132.84 248.57 L133.14 249.11 L133.44 249.65 L133.74 250.21 L134.04 250.77 L134.34 251.34 L134.65 251.92 L134.95 252.50 L135.25 253.08 L135.55 253.67 L135.85 254.28 L136.16 254.90 L136.46 255.54 L136.76 256.19 L137.06 256.86 L137.36 257.54 L137.66 258.23 L137.97 258.94 L138.27 259.65 L138.57 260.36 L138.87 261.09 L139.17 261.81 L139.47 262.54 L139.78 263.27 L140.08 264.01 L140.38 264.74 L140.68 265.47 L140.98 266.19 L141.29 266.91 L141.59 267.63 L141.89 268.35 L142.19 269.06 L142.49 269.79 L142.79 270.51 L143.10 271.24 L143.40 271.97 L143.70 272.70 L144.00 273.44 L144.30 274.17 L144.60 274.91 L144.91 275.64 L145.21 276.38 L145.51 277.12 L145.81 277.86 L146.11 278.59 L146.41 279.33 L146.72 280.06 L147.02 280.79 L147.32 281.52 L147.62 282.25 L147.92 282.97 L148.23 283.69 L148.53 284.41 L148.83 285.13 L149.13 285.85 L149.43 286.57 L149.73 287.29 L150.04 288.01 L150.34 288.73 L150.64 289.46 L150.94 290.19 L151.24 290.92 L151.54 291.66 L151.85 292.40 L152.15 293.16 L152.45 293.91 L152.75 294.68 L153.05 295.45 L153.36 296.23 L153.66 297.01 L153.96 297.79 L154.26 298.58 L154.56 299.38 L154.86 300.17 L155.17 300.98 L155.47 301.78 L155.77 302.59 L156.07 303.41 L156.37 304.23 L156.67 305.05 L156.98 305.88 L157.28 306.72 L157.58 307.56 L157.88 308.40 L158.18 309.25 L158.48 310.11 L158.79 310.97 L159.09 311.83 L159.39 312.70 L159.69 313.58 L159.99 314.46 L160.30 315.36 L160.60 316.26 L160.90 317.18 L161.20 318.10" fill="none" stroke="#2b4aa8" stroke-width="0.9" clip-path="url(#clipd)" stroke-linejoin="round"/>
<g fill="#2b4aa8" clip-path="url(#clipd)"><path d="M40.50 223.26 l1.20 1.40 l-1.20 1.40 l-1.20 -1.40 z"/><path d="M42.53 223.26 l1.20 1.40 l-1.20 1.40 l-1.20 -1.40 z"/><path d="M44.55 223.27 l1.20 1.40 l-1.20 1.40 l-1.20 -1.40 z"/><path d="M46.58 223.28 l1.20 1.40 l-1.20 1.40 l-1.20 -1.40 z"/><path d="M48.61 223.30 l1.20 1.40 l-1.20 1.40 l-1.20 -1.40 z"/><path d="M50.63 223.32 l1.20 1.40 l-1.20 1.40 l-1.20 -1.40 z"/><path d="M52.66 223.34 l1.20 1.40 l-1.20 1.40 l-1.20 -1.40 z"/><path d="M54.69 223.37 l1.20 1.40 l-1.20 1.40 l-1.20 -1.40 z"/><path d="M56.71 223.41 l1.20 1.40 l-1.20 1.40 l-1.20 -1.40 z"/><path d="M58.74 223.45 l1.20 1.40 l-1.20 1.40 l-1.20 -1.40 z"/><path d="M60.77 223.49 l1.20 1.40 l-1.20 1.40 l-1.20 -1.40 z"/><path d="M62.79 223.53 l1.20 1.40 l-1.20 1.40 l-1.20 -1.40 z"/><path d="M64.82 223.58 l1.20 1.40 l-1.20 1.40 l-1.20 -1.40 z"/><path d="M66.84 223.64 l1.20 1.40 l-1.20 1.40 l-1.20 -1.40 z"/><path d="M68.87 223.69 l1.20 1.40 l-1.20 1.40 l-1.20 -1.40 z"/><path d="M70.90 223.75 l1.20 1.40 l-1.20 1.40 l-1.20 -1.40 z"/><path d="M72.92 223.82 l1.20 1.40 l-1.20 1.40 l-1.20 -1.40 z"/><path d="M74.95 223.88 l1.20 1.40 l-1.20 1.40 l-1.20 -1.40 z"/><path d="M76.98 223.97 l1.20 1.40 l-1.20 1.40 l-1.20 -1.40 z"/><path d="M79.00 224.10 l1.20 1.40 l-1.20 1.40 l-1.20 -1.40 z"/><path d="M81.03 224.27 l1.20 1.40 l-1.20 1.40 l-1.20 -1.40 z"/><path d="M83.06 224.48 l1.20 1.40 l-1.20 1.40 l-1.20 -1.40 z"/><path d="M85.08 224.73 l1.20 1.40 l-1.20 1.40 l-1.20 -1.40 z"/><path d="M87.11 225.00 l1.20 1.40 l-1.20 1.40 l-1.20 -1.40 z"/><path d="M89.14 225.30 l1.20 1.40 l-1.20 1.40 l-1.20 -1.40 z"/><path d="M91.16 225.63 l1.20 1.40 l-1.20 1.40 l-1.20 -1.40 z"/><path d="M93.19 225.97 l1.20 1.40 l-1.20 1.40 l-1.20 -1.40 z"/><path d="M95.22 226.32 l1.20 1.40 l-1.20 1.40 l-1.20 -1.40 z"/><path d="M97.24 226.69 l1.20 1.40 l-1.20 1.40 l-1.20 -1.40 z"/><path d="M99.27 227.06 l1.20 1.40 l-1.20 1.40 l-1.20 -1.40 z"/><path d="M101.30 227.43 l1.20 1.40 l-1.20 1.40 l-1.20 -1.40 z"/><path d="M103.32 227.83 l1.20 1.40 l-1.20 1.40 l-1.20 -1.40 z"/><path d="M105.35 228.26 l1.20 1.40 l-1.20 1.40 l-1.20 -1.40 z"/><path d="M107.37 228.74 l1.20 1.40 l-1.20 1.40 l-1.20 -1.40 z"/><path d="M109.40 229.27 l1.20 1.40 l-1.20 1.40 l-1.20 -1.40 z"/><path d="M111.43 229.86 l1.20 1.40 l-1.20 1.40 l-1.20 -1.40 z"/><path d="M113.45 230.53 l1.20 1.40 l-1.20 1.40 l-1.20 -1.40 z"/><path d="M115.48 231.28 l1.20 1.40 l-1.20 1.40 l-1.20 -1.40 z"/><path d="M117.51 232.23 l1.20 1.40 l-1.20 1.40 l-1.20 -1.40 z"/><path d="M119.53 233.43 l1.20 1.40 l-1.20 1.40 l-1.20 -1.40 z"/><path d="M121.56 234.84 l1.20 1.40 l-1.20 1.40 l-1.20 -1.40 z"/><path d="M123.59 236.38 l1.20 1.40 l-1.20 1.40 l-1.20 -1.40 z"/><path d="M125.61 238.08 l1.20 1.40 l-1.20 1.40 l-1.20 -1.40 z"/><path d="M127.64 240.06 l1.20 1.40 l-1.20 1.40 l-1.20 -1.40 z"/><path d="M129.67 242.39 l1.20 1.40 l-1.20 1.40 l-1.20 -1.40 z"/><path d="M131.69 245.25 l1.20 1.40 l-1.20 1.40 l-1.20 -1.40 z"/><path d="M133.72 248.77 l1.20 1.40 l-1.20 1.40 l-1.20 -1.40 z"/><path d="M135.75 252.66 l1.20 1.40 l-1.20 1.40 l-1.20 -1.40 z"/><path d="M137.77 257.08 l1.20 1.40 l-1.20 1.40 l-1.20 -1.40 z"/><path d="M139.80 261.93 l1.20 1.40 l-1.20 1.40 l-1.20 -1.40 z"/><path d="M141.82 266.79 l1.20 1.40 l-1.20 1.40 l-1.20 -1.40 z"/><path d="M143.85 271.67 l1.20 1.40 l-1.20 1.40 l-1.20 -1.40 z"/><path d="M145.88 276.62 l1.20 1.40 l-1.20 1.40 l-1.20 -1.40 z"/><path d="M147.90 281.53 l1.20 1.40 l-1.20 1.40 l-1.20 -1.40 z"/><path d="M149.93 286.36 l1.20 1.40 l-1.20 1.40 l-1.20 -1.40 z"/><path d="M151.96 291.28 l1.20 1.40 l-1.20 1.40 l-1.20 -1.40 z"/><path d="M153.98 296.46 l1.20 1.40 l-1.20 1.40 l-1.20 -1.40 z"/><path d="M156.01 301.85 l1.20 1.40 l-1.20 1.40 l-1.20 -1.40 z"/><path d="M158.04 307.44 l1.20 1.40 l-1.20 1.40 l-1.20 -1.40 z"/><path d="M160.06 313.27 l1.20 1.40 l-1.20 1.40 l-1.20 -1.40 z"/></g>
<path d="M40.50 220.03 L40.83 220.03 L41.15 220.03 L41.48 220.03 L41.81 220.03 L42.14 220.03 L42.46 220.03 L42.79 220.03 L43.12 220.03 L43.44 220.03 L43.77 220.03 L44.10 220.03 L44.43 220.03 L44.75 220.03 L45.08 220.03 L45.41 220.03 L45.74 220.03 L46.06 220.03 L46.39 220.03 L46.72 220.03 L47.04 220.03 L47.37 220.03 L47.70 220.03 L48.03 220.03 L48.35 220.03 L48.68 220.03 L49.01 220.03 L49.33 220.03 L49.66 220.03 L49.99 220.03 L50.32 220.03 L50.64 220.03 L50.97 220.03 L51.30 220.03 L51.62 220.03 L51.95 220.03 L52.28 220.03 L52.61 220.03 L52.93 220.03 L53.26 220.03 L53.59 220.03 L53.91 220.03 L54.24 220.03 L54.57 220.03 L54.90 220.03 L55.22 220.03 L55.55 220.03 L55.88 220.03 L56.21 220.03 L56.53 220.03 L56.86 220.03 L57.19 220.03 L57.51 220.03 L57.84 220.03 L58.17 220.03 L58.50 220.03 L58.82 220.03 L59.15 220.03 L59.48 220.03 L59.80 220.03 L60.13 220.03 L60.46 220.03 L60.79 220.03 L61.11 220.03 L61.44 220.03 L61.77 220.03 L62.09 220.03 L62.42 220.03 L62.75 220.03 L63.08 220.03 L63.40 220.03 L63.73 220.03 L64.06 220.03 L64.38 220.03 L64.71 220.03 L65.04 220.03 L65.37 220.03 L65.69 220.03 L66.02 220.03 L66.35 220.03 L66.68 220.03 L67.00 220.03 L67.33 220.03 L67.66 220.03 L67.98 220.03 L68.31 220.03 L68.64 220.03 L68.97 220.03 L69.29 220.03 L69.62 220.03 L69.95 220.03 L70.27 220.03 L70.60 220.03 L70.93 220.03 L71.26 220.03 L71.58 220.03 L71.91 220.03 L72.24 220.03 L72.56 220.03 L72.89 220.03 L73.22 220.03 L73.55 220.04 L73.87 220.04 L74.20 220.04 L74.53 220.04 L74.85 220.04 L75.18 220.04 L75.51 220.04 L75.84 220.04 L76.16 220.04 L76.49 220.04 L76.82 220.04 L77.15 220.04 L77.47 220.04 L77.80 220.04 L78.13 220.04 L78.45 220.04 L78.78 220.04 L79.11 220.04 L79.44 220.04 L79.76 220.04 L80.09 220.04 L80.42 220.04 L80.74 220.04 L81.07 220.04 L81.40 220.04 L81.73 220.04 L82.05 220.04 L82.38 220.04 L82.71 220.04 L83.03 220.04 L83.36 220.04 L83.69 220.04 L84.02 220.04 L84.34 220.04 L84.67 220.05 L85.00 220.05 L85.33 220.05 L85.65 220.05 L85.98 220.05 L86.31 220.05 L86.63 220.05 L86.96 220.05 L87.29 220.05 L87.62 220.05 L87.94 220.05 L88.27 220.05 L88.60 220.05 L88.92 220.05 L89.25 220.05 L89.58 220.06 L89.91 220.06 L90.23 220.06 L90.56 220.06 L90.89 220.06 L91.21 220.06 L91.54 220.06 L91.87 220.06 L92.20 220.06 L92.52 220.06 L92.85 220.06 L93.18 220.07 L93.50 220.07 L93.83 220.07 L94.16 220.07 L94.49 220.07 L94.81 220.07 L95.14 220.07 L95.47 220.08 L95.80 220.08 L96.12 220.08 L96.45 220.08 L96.78 220.08 L97.10 220.08 L97.43 220.09 L97.76 220.09 L98.09 220.09 L98.41 220.09 L98.74 220.09 L99.07 220.10 L99.39 220.10 L99.72 220.10 L100.05 220.10 L100.38 220.11 L100.70 220.11 L101.03 220.11 L101.36 220.11 L101.68 220.12 L102.01 220.12 L102.34 220.12 L102.67 220.12 L102.99 220.13 L103.32 220.13 L103.65 220.14 L103.97 220.14 L104.30 220.14 L104.63 220.15 L104.96 220.15 L105.28 220.15 L105.61 220.16 L105.94 220.16 L106.27 220.17 L106.59 220.17 L106.92 220.18 L107.25 220.18 L107.57 220.19 L107.90 220.19 L108.23 220.20 L108.56 220.20 L108.88 220.21 L109.21 220.22 L109.54 220.22 L109.86 220.23 L110.19 220.24 L110.52 220.24 L110.85 220.25 L111.17 220.26 L111.50 220.26 L111.83 220.27 L112.15 220.28 L112.48 220.29 L112.81 220.30 L113.14 220.31 L113.46 220.32 L113.79 220.33 L114.12 220.34 L114.44 220.35 L114.77 220.36 L115.10 220.37 L115.43 220.38 L115.75 220.39 L116.08 220.41 L116.41 220.42 L116.74 220.43 L117.06 220.45 L117.39 220.46 L117.72 220.47 L118.04 220.49 L118.37 220.51 L118.70 220.52 L119.03 220.54 L119.35 220.56 L119.68 220.57 L120.01 220.59 L120.33 220.61 L120.66 220.63 L120.99 220.65 L121.32 220.67 L121.64 220.70 L121.97 220.72 L122.30 220.74 L122.62 220.77 L122.95 220.79 L123.28 220.82 L123.61 220.84 L123.93 220.87 L124.26 220.90 L124.59 220.93 L124.92 220.96 L125.24 220.99 L125.57 221.03 L125.90 221.06 L126.22 221.10 L126.55 221.13 L126.88 221.17 L127.21 221.21 L127.53 221.25 L127.86 221.29 L128.19 221.33 L128.51 221.38 L128.84 221.42 L129.17 221.47 L129.50 221.52 L129.82 221.57 L130.15 221.63 L130.48 221.68 L130.80 221.74 L131.13 221.80 L131.46 221.86 L131.79 221.92 L132.11 221.98 L132.44 222.05 L132.77 222.12 L133.09 222.19 L133.42 222.26 L133.75 222.34 L134.08 222.42 L134.40 222.50 L134.73 222.59 L135.06 222.67 L135.39 222.76 L135.71 222.86 L136.04 222.95 L136.37 223.05 L136.69 223.16 L137.02 223.26 L137.35 223.37 L137.68 223.49 L138.00 223.61 L138.33 223.73 L138.66 223.86 L138.98 223.99 L139.31 224.12 L139.64 224.26 L139.97 224.41 L140.29 224.56 L140.62 224.71 L140.95 224.87 L141.27 225.04 L141.60 225.21 L141.93 225.39 L142.26 225.57 L142.58 225.76 L142.91 225.95 L143.24 226.16 L143.56 226.37 L143.89 226.58 L144.22 226.81 L144.55 227.04 L144.87 227.28 L145.20 227.53 L145.53 227.78 L145.86 228.05 L146.18 228.32 L146.51 228.61 L146.84 228.90 L147.16 229.20 L147.49 229.52 L147.82 229.84 L148.15 230.18 L148.47 230.52 L148.80 230.88 L149.13 231.25 L149.45 231.64 L149.78 232.03 L150.11 232.45 L150.44 232.87 L150.76 233.31 L151.09 233.76 L151.42 234.23 L151.74 234.72 L152.07 235.22 L152.40 235.74 L152.73 236.28 L153.05 236.83 L153.38 237.41 L153.71 238.00 L154.03 238.62 L154.36 239.26 L154.69 239.91 L155.02 240.59 L155.34 241.30 L155.67 242.02 L156.00 242.78 L156.33 243.55 L156.65 244.36 L156.98 245.19 L157.31 246.05 L157.63 246.94 L157.96 247.86 L158.29 248.81 L158.62 249.80 L158.94 250.82 L159.27 251.87 L159.60 252.96 L159.92 254.09 L160.25 255.25 L160.58 256.46 L160.91 257.70 L161.23 258.99 L161.56 260.32 L161.89 261.70 L162.21 263.13 L162.54 264.60 L162.87 266.13 L163.20 267.70 L163.52 269.34 L163.85 271.02 L164.18 272.77 L164.51 274.57 L164.83 276.44 L165.16 278.37 L165.49 280.36 L165.81 282.43 L166.14 284.56 L166.47 286.77 L166.80 289.05 L167.12 291.41 L167.45 293.85 L167.78 296.38 L168.10 298.99 L168.43 301.69 L168.76 304.48 L169.09 307.37 L169.41 310.36 L169.74 313.45 L170.07 316.65 L170.39 319.95 L170.72 323.37 L171.05 326.91 L171.38 330.56" fill="none" stroke="#1a1a1a" stroke-width="1.1" clip-path="url(#clipd)" stroke-linejoin="round"/>
<g fill="#1a1a1a" clip-path="url(#clipd)"><circle cx="40.50" cy="220.03" r="1.15"/><circle cx="42.53" cy="220.03" r="1.15"/><circle cx="44.55" cy="220.03" r="1.15"/><circle cx="46.58" cy="220.03" r="1.15"/><circle cx="48.61" cy="220.03" r="1.15"/><circle cx="50.63" cy="220.03" r="1.15"/><circle cx="52.66" cy="220.03" r="1.15"/><circle cx="54.69" cy="220.03" r="1.15"/><circle cx="56.71" cy="220.03" r="1.15"/><circle cx="58.74" cy="220.03" r="1.15"/><circle cx="60.77" cy="220.03" r="1.15"/><circle cx="62.79" cy="220.03" r="1.15"/><circle cx="64.82" cy="220.03" r="1.15"/><circle cx="66.84" cy="220.03" r="1.15"/><circle cx="68.87" cy="220.03" r="1.15"/><circle cx="70.90" cy="220.03" r="1.15"/><circle cx="72.92" cy="220.03" r="1.15"/><circle cx="74.95" cy="220.04" r="1.15"/><circle cx="76.98" cy="220.04" r="1.15"/><circle cx="79.00" cy="220.04" r="1.15"/><circle cx="81.03" cy="220.04" r="1.15"/><circle cx="83.06" cy="220.04" r="1.15"/><circle cx="85.08" cy="220.05" r="1.15"/><circle cx="87.11" cy="220.05" r="1.15"/><circle cx="89.14" cy="220.05" r="1.15"/><circle cx="91.16" cy="220.06" r="1.15"/><circle cx="93.19" cy="220.07" r="1.15"/><circle cx="95.22" cy="220.07" r="1.15"/><circle cx="97.24" cy="220.08" r="1.15"/><circle cx="99.27" cy="220.10" r="1.15"/><circle cx="101.30" cy="220.11" r="1.15"/><circle cx="103.32" cy="220.13" r="1.15"/><circle cx="105.35" cy="220.15" r="1.15"/><circle cx="107.37" cy="220.18" r="1.15"/><circle cx="109.40" cy="220.22" r="1.15"/><circle cx="111.43" cy="220.26" r="1.15"/><circle cx="113.45" cy="220.32" r="1.15"/><circle cx="115.48" cy="220.38" r="1.15"/><circle cx="117.51" cy="220.47" r="1.15"/><circle cx="119.53" cy="220.57" r="1.15"/><circle cx="121.56" cy="220.69" r="1.15"/><circle cx="123.59" cy="220.84" r="1.15"/><circle cx="125.61" cy="221.03" r="1.15"/><circle cx="127.64" cy="221.26" r="1.15"/><circle cx="129.67" cy="221.55" r="1.15"/><circle cx="131.69" cy="221.90" r="1.15"/><circle cx="133.72" cy="222.33" r="1.15"/><circle cx="135.75" cy="222.87" r="1.15"/><circle cx="137.77" cy="223.52" r="1.15"/><circle cx="139.80" cy="224.33" r="1.15"/><circle cx="141.82" cy="225.33" r="1.15"/><circle cx="143.85" cy="226.56" r="1.15"/><circle cx="145.88" cy="228.07" r="1.15"/><circle cx="147.90" cy="229.93" r="1.15"/><circle cx="149.93" cy="232.22" r="1.15"/><circle cx="151.96" cy="235.04" r="1.15"/><circle cx="153.98" cy="238.52" r="1.15"/><circle cx="156.01" cy="242.81" r="1.15"/><circle cx="158.04" cy="248.08" r="1.15"/><circle cx="160.06" cy="254.58" r="1.15"/><circle cx="162.09" cy="262.58" r="1.15"/><circle cx="164.12" cy="272.43" r="1.15"/><circle cx="166.14" cy="284.57" r="1.15"/><circle cx="168.17" cy="299.52" r="1.15"/><circle cx="170.20" cy="317.93" r="1.15"/></g>
<path d="M40.50 219.32 L40.83 219.32 L41.15 219.32 L41.48 219.32 L41.80 219.32 L42.13 219.32 L42.45 219.32 L42.78 219.32 L43.10 219.32 L43.43 219.32 L43.75 219.32 L44.08 219.32 L44.41 219.32 L44.73 219.32 L45.06 219.32 L45.38 219.32 L45.71 219.32 L46.03 219.32 L46.36 219.32 L46.68 219.32 L47.01 219.32 L47.33 219.32 L47.66 219.32 L47.99 219.32 L48.31 219.32 L48.64 219.32 L48.96 219.32 L49.29 219.32 L49.61 219.32 L49.94 219.32 L50.26 219.32 L50.59 219.32 L50.91 219.32 L51.24 219.32 L51.56 219.32 L51.89 219.32 L52.22 219.32 L52.54 219.32 L52.87 219.32 L53.19 219.32 L53.52 219.32 L53.84 219.32 L54.17 219.32 L54.49 219.32 L54.82 219.32 L55.14 219.32 L55.47 219.32 L55.80 219.32 L56.12 219.32 L56.45 219.32 L56.77 219.32 L57.10 219.32 L57.42 219.32 L57.75 219.32 L58.07 219.32 L58.40 219.32 L58.72 219.32 L59.05 219.32 L59.38 219.32 L59.70 219.32 L60.03 219.32 L60.35 219.32 L60.68 219.32 L61.00 219.32 L61.33 219.32 L61.65 219.32 L61.98 219.32 L62.30 219.32 L62.63 219.32 L62.96 219.32 L63.28 219.32 L63.61 219.32 L63.93 219.32 L64.26 219.32 L64.58 219.32 L64.91 219.32 L65.23 219.32 L65.56 219.32 L65.88 219.32 L66.21 219.32 L66.53 219.32 L66.86 219.32 L67.19 219.32 L67.51 219.32 L67.84 219.32 L68.16 219.32 L68.49 219.32 L68.81 219.32 L69.14 219.32 L69.46 219.32 L69.79 219.32 L70.11 219.32 L70.44 219.32 L70.77 219.32 L71.09 219.32 L71.42 219.32 L71.74 219.32 L72.07 219.32 L72.39 219.32 L72.72 219.32 L73.04 219.32 L73.37 219.32 L73.69 219.32 L74.02 219.32 L74.35 219.32 L74.67 219.32 L75.00 219.32 L75.32 219.32 L75.65 219.32 L75.97 219.32 L76.30 219.32 L76.62 219.32 L76.95 219.32 L77.27 219.32 L77.60 219.32 L77.93 219.33 L78.25 219.33 L78.58 219.33 L78.90 219.33 L79.23 219.33 L79.55 219.33 L79.88 219.33 L80.20 219.33 L80.53 219.33 L80.85 219.33 L81.18 219.33 L81.50 219.33 L81.83 219.33 L82.16 219.33 L82.48 219.33 L82.81 219.33 L83.13 219.33 L83.46 219.33 L83.78 219.33 L84.11 219.33 L84.43 219.33 L84.76 219.33 L85.08 219.34 L85.41 219.34 L85.74 219.34 L86.06 219.34 L86.39 219.34 L86.71 219.34 L87.04 219.34 L87.36 219.34 L87.69 219.34 L88.01 219.34 L88.34 219.34 L88.66 219.34 L88.99 219.35 L89.32 219.35 L89.64 219.35 L89.97 219.35 L90.29 219.35 L90.62 219.35 L90.94 219.35 L91.27 219.35 L91.59 219.35 L91.92 219.36 L92.24 219.36 L92.57 219.36 L92.90 219.36 L93.22 219.36 L93.55 219.36 L93.87 219.36 L94.20 219.37 L94.52 219.37 L94.85 219.37 L95.17 219.37 L95.50 219.37 L95.82 219.38 L96.15 219.38 L96.47 219.38 L96.80 219.38 L97.13 219.38 L97.45 219.39 L97.78 219.39 L98.10 219.39 L98.43 219.39 L98.75 219.40 L99.08 219.40 L99.40 219.40 L99.73 219.40 L100.05 219.41 L100.38 219.41 L100.71 219.41 L101.03 219.42 L101.36 219.42 L101.68 219.42 L102.01 219.43 L102.33 219.43 L102.66 219.43 L102.98 219.44 L103.31 219.44 L103.63 219.45 L103.96 219.45 L104.29 219.46 L104.61 219.46 L104.94 219.47 L105.26 219.47 L105.59 219.48 L105.91 219.48 L106.24 219.49 L106.56 219.49 L106.89 219.50 L107.21 219.50 L107.54 219.51 L107.87 219.52 L108.19 219.52 L108.52 219.53 L108.84 219.54 L109.17 219.55 L109.49 219.55 L109.82 219.56 L110.14 219.57 L110.47 219.58 L110.79 219.59 L111.12 219.60 L111.44 219.60 L111.77 219.61 L112.10 219.62 L112.42 219.63 L112.75 219.65 L113.07 219.66 L113.40 219.67 L113.72 219.68 L114.05 219.69 L114.37 219.70 L114.70 219.72 L115.02 219.73 L115.35 219.74 L115.68 219.76 L116.00 219.77 L116.33 219.79 L116.65 219.80 L116.98 219.82 L117.30 219.84 L117.63 219.85 L117.95 219.87 L118.28 219.89 L118.60 219.91 L118.93 219.93 L119.26 219.95 L119.58 219.97 L119.91 219.99 L120.23 220.02 L120.56 220.04 L120.88 220.06 L121.21 220.09 L121.53 220.11 L121.86 220.14 L122.18 220.17 L122.51 220.20 L122.84 220.22 L123.16 220.25 L123.49 220.29 L123.81 220.32 L124.14 220.35 L124.46 220.39 L124.79 220.42 L125.11 220.46 L125.44 220.50 L125.76 220.54 L126.09 220.58 L126.42 220.62 L126.74 220.66 L127.07 220.71 L127.39 220.75 L127.72 220.80 L128.04 220.85 L128.37 220.90 L128.69 220.95 L129.02 221.01 L129.34 221.06 L129.67 221.12 L129.99 221.18 L130.32 221.24 L130.65 221.31 L130.97 221.37 L131.30 221.44 L131.62 221.51 L131.95 221.59 L132.27 221.66 L132.60 221.74 L132.92 221.82 L133.25 221.90 L133.57 221.99 L133.90 222.08 L134.23 222.17 L134.55 222.26 L134.88 222.36 L135.20 222.46 L135.53 222.57 L135.85 222.68 L136.18 222.79 L136.50 222.90 L136.83 223.02 L137.15 223.14 L137.48 223.27 L137.81 223.40 L138.13 223.54 L138.46 223.68 L138.78 223.82 L139.11 223.97 L139.43 224.13 L139.76 224.29 L140.08 224.45 L140.41 224.62 L140.73 224.80 L141.06 224.98 L141.39 225.17 L141.71 225.37 L142.04 225.57 L142.36 225.77 L142.69 225.99 L143.01 226.21 L143.34 226.44 L143.66 226.68 L143.99 226.92 L144.31 227.17 L144.64 227.43 L144.96 227.70 L145.29 227.98 L145.62 228.27 L145.94 228.57 L146.27 228.88 L146.59 229.19 L146.92 229.52 L147.24 229.86 L147.57 230.21 L147.89 230.57 L148.22 230.95 L148.54 231.33 L148.87 231.73 L149.20 232.14 L149.52 232.57 L149.85 233.01 L150.17 233.47 L150.50 233.94 L150.82 234.42 L151.15 234.92 L151.47 235.44 L151.80 235.98 L152.12 236.53 L152.45 237.10 L152.78 237.69 L153.10 238.30 L153.43 238.94 L153.75 239.59 L154.08 240.26 L154.40 240.96 L154.73 241.67 L155.05 242.42 L155.38 243.19 L155.70 243.98 L156.03 244.80 L156.36 245.64 L156.68 246.52 L157.01 247.42 L157.33 248.36 L157.66 249.32 L157.98 250.32 L158.31 251.35 L158.63 252.41 L158.96 253.51 L159.28 254.65 L159.61 255.82 L159.93 257.03 L160.26 258.29 L160.59 259.58 L160.91 260.92 L161.24 262.30 L161.56 263.73 L161.89 265.20 L162.21 266.73 L162.54 268.30 L162.86 269.93 L163.19 271.61 L163.51 273.35 L163.84 275.14 L164.17 277.00 L164.49 278.91 L164.82 280.89 L165.14 282.94 L165.47 285.05 L165.79 287.23 L166.12 289.49 L166.44 291.82 L166.77 294.23 L167.09 296.72 L167.42 299.29 L167.75 301.95 L168.07 304.69 L168.40 307.53 L168.72 310.46 L169.05 313.49 L169.37 316.61 L169.70 319.85 L170.02 323.19 L170.35 326.64 L170.67 330.20" fill="none" stroke="#e0152b" stroke-width="1.0" clip-path="url(#clipd)" stroke-linejoin="round"/>
<g fill="#e0152b" clip-path="url(#clipd)"><path d="M40.50 217.57 l1.50 1.75 l-1.50 1.75 l-1.50 -1.75 z"/><path d="M42.53 217.57 l1.50 1.75 l-1.50 1.75 l-1.50 -1.75 z"/><path d="M44.55 217.57 l1.50 1.75 l-1.50 1.75 l-1.50 -1.75 z"/><path d="M46.58 217.57 l1.50 1.75 l-1.50 1.75 l-1.50 -1.75 z"/><path d="M48.61 217.57 l1.50 1.75 l-1.50 1.75 l-1.50 -1.75 z"/><path d="M50.63 217.57 l1.50 1.75 l-1.50 1.75 l-1.50 -1.75 z"/><path d="M52.66 217.57 l1.50 1.75 l-1.50 1.75 l-1.50 -1.75 z"/><path d="M54.69 217.57 l1.50 1.75 l-1.50 1.75 l-1.50 -1.75 z"/><path d="M56.71 217.57 l1.50 1.75 l-1.50 1.75 l-1.50 -1.75 z"/><path d="M58.74 217.57 l1.50 1.75 l-1.50 1.75 l-1.50 -1.75 z"/><path d="M60.77 217.57 l1.50 1.75 l-1.50 1.75 l-1.50 -1.75 z"/><path d="M62.79 217.57 l1.50 1.75 l-1.50 1.75 l-1.50 -1.75 z"/><path d="M64.82 217.57 l1.50 1.75 l-1.50 1.75 l-1.50 -1.75 z"/><path d="M66.84 217.57 l1.50 1.75 l-1.50 1.75 l-1.50 -1.75 z"/><path d="M68.87 217.57 l1.50 1.75 l-1.50 1.75 l-1.50 -1.75 z"/><path d="M70.90 217.57 l1.50 1.75 l-1.50 1.75 l-1.50 -1.75 z"/><path d="M72.92 217.57 l1.50 1.75 l-1.50 1.75 l-1.50 -1.75 z"/><path d="M74.95 217.57 l1.50 1.75 l-1.50 1.75 l-1.50 -1.75 z"/><path d="M76.98 217.57 l1.50 1.75 l-1.50 1.75 l-1.50 -1.75 z"/><path d="M79.00 217.58 l1.50 1.75 l-1.50 1.75 l-1.50 -1.75 z"/><path d="M81.03 217.58 l1.50 1.75 l-1.50 1.75 l-1.50 -1.75 z"/><path d="M83.06 217.58 l1.50 1.75 l-1.50 1.75 l-1.50 -1.75 z"/><path d="M85.08 217.59 l1.50 1.75 l-1.50 1.75 l-1.50 -1.75 z"/><path d="M87.11 217.59 l1.50 1.75 l-1.50 1.75 l-1.50 -1.75 z"/><path d="M89.14 217.60 l1.50 1.75 l-1.50 1.75 l-1.50 -1.75 z"/><path d="M91.16 217.60 l1.50 1.75 l-1.50 1.75 l-1.50 -1.75 z"/><path d="M93.19 217.61 l1.50 1.75 l-1.50 1.75 l-1.50 -1.75 z"/><path d="M95.22 217.62 l1.50 1.75 l-1.50 1.75 l-1.50 -1.75 z"/><path d="M97.24 217.63 l1.50 1.75 l-1.50 1.75 l-1.50 -1.75 z"/><path d="M99.27 217.65 l1.50 1.75 l-1.50 1.75 l-1.50 -1.75 z"/><path d="M101.30 217.67 l1.50 1.75 l-1.50 1.75 l-1.50 -1.75 z"/><path d="M103.32 217.69 l1.50 1.75 l-1.50 1.75 l-1.50 -1.75 z"/><path d="M105.35 217.72 l1.50 1.75 l-1.50 1.75 l-1.50 -1.75 z"/><path d="M107.37 217.76 l1.50 1.75 l-1.50 1.75 l-1.50 -1.75 z"/><path d="M109.40 217.80 l1.50 1.75 l-1.50 1.75 l-1.50 -1.75 z"/><path d="M111.43 217.85 l1.50 1.75 l-1.50 1.75 l-1.50 -1.75 z"/><path d="M113.45 217.92 l1.50 1.75 l-1.50 1.75 l-1.50 -1.75 z"/><path d="M115.48 218.00 l1.50 1.75 l-1.50 1.75 l-1.50 -1.75 z"/><path d="M117.51 218.10 l1.50 1.75 l-1.50 1.75 l-1.50 -1.75 z"/><path d="M119.53 218.22 l1.50 1.75 l-1.50 1.75 l-1.50 -1.75 z"/><path d="M121.56 218.36 l1.50 1.75 l-1.50 1.75 l-1.50 -1.75 z"/><path d="M123.59 218.55 l1.50 1.75 l-1.50 1.75 l-1.50 -1.75 z"/><path d="M125.61 218.77 l1.50 1.75 l-1.50 1.75 l-1.50 -1.75 z"/><path d="M127.64 219.04 l1.50 1.75 l-1.50 1.75 l-1.50 -1.75 z"/><path d="M129.67 219.37 l1.50 1.75 l-1.50 1.75 l-1.50 -1.75 z"/><path d="M131.69 219.78 l1.50 1.75 l-1.50 1.75 l-1.50 -1.75 z"/><path d="M133.72 220.28 l1.50 1.75 l-1.50 1.75 l-1.50 -1.75 z"/><path d="M135.75 220.89 l1.50 1.75 l-1.50 1.75 l-1.50 -1.75 z"/><path d="M137.77 221.64 l1.50 1.75 l-1.50 1.75 l-1.50 -1.75 z"/><path d="M139.80 222.56 l1.50 1.75 l-1.50 1.75 l-1.50 -1.75 z"/><path d="M141.82 223.69 l1.50 1.75 l-1.50 1.75 l-1.50 -1.75 z"/><path d="M143.85 225.07 l1.50 1.75 l-1.50 1.75 l-1.50 -1.75 z"/><path d="M145.88 226.76 l1.50 1.75 l-1.50 1.75 l-1.50 -1.75 z"/><path d="M147.90 228.83 l1.50 1.75 l-1.50 1.75 l-1.50 -1.75 z"/><path d="M149.93 231.38 l1.50 1.75 l-1.50 1.75 l-1.50 -1.75 z"/><path d="M151.96 234.49 l1.50 1.75 l-1.50 1.75 l-1.50 -1.75 z"/><path d="M153.98 238.32 l1.50 1.75 l-1.50 1.75 l-1.50 -1.75 z"/><path d="M156.01 243.00 l1.50 1.75 l-1.50 1.75 l-1.50 -1.75 z"/><path d="M158.04 248.74 l1.50 1.75 l-1.50 1.75 l-1.50 -1.75 z"/><path d="M160.06 255.77 l1.50 1.75 l-1.50 1.75 l-1.50 -1.75 z"/><path d="M162.09 264.39 l1.50 1.75 l-1.50 1.75 l-1.50 -1.75 z"/><path d="M164.12 274.96 l1.50 1.75 l-1.50 1.75 l-1.50 -1.75 z"/><path d="M166.14 287.92 l1.50 1.75 l-1.50 1.75 l-1.50 -1.75 z"/><path d="M168.17 303.79 l1.50 1.75 l-1.50 1.75 l-1.50 -1.75 z"/></g>
<rect x="40.5" y="209.3" width="132.3" height="105.19999999999999" fill="none" stroke="#555" stroke-width="0.8"/>
<path d="M40.5 209.3 V314.5 H172.8" fill="none" stroke="#222" stroke-width="0.9"/>
<line x1="37.2" y1="314.50" x2="40.5" y2="314.50" stroke="#222" stroke-width="0.8"/>
<text x="33.9" y="317.8" font-size="9.8" text-anchor="end" fill="#1a1a1a" font-weight="normal" font-style="normal" stroke="#1a1a1a" stroke-width="0.22" >0</text>
<line x1="37.2" y1="293.46" x2="40.5" y2="293.46" stroke="#222" stroke-width="0.8"/>
<text x="33.9" y="296.76" font-size="9.8" text-anchor="end" fill="#1a1a1a" font-weight="normal" font-style="normal" stroke="#1a1a1a" stroke-width="0.22" >5</text>
<line x1="37.2" y1="272.42" x2="40.5" y2="272.42" stroke="#222" stroke-width="0.8"/>
<text x="33.9" y="275.72" font-size="9.8" text-anchor="end" fill="#1a1a1a" font-weight="normal" font-style="normal" stroke="#1a1a1a" stroke-width="0.22" >10</text>
<line x1="37.2" y1="251.38" x2="40.5" y2="251.38" stroke="#222" stroke-width="0.8"/>
<text x="33.9" y="254.68" font-size="9.8" text-anchor="end" fill="#1a1a1a" font-weight="normal" font-style="normal" stroke="#1a1a1a" stroke-width="0.22" >15</text>
<line x1="37.2" y1="230.34" x2="40.5" y2="230.34" stroke="#222" stroke-width="0.8"/>
<text x="33.9" y="233.64000000000004" font-size="9.8" text-anchor="end" fill="#1a1a1a" font-weight="normal" font-style="normal" stroke="#1a1a1a" stroke-width="0.22" >20</text>
<line x1="37.2" y1="209.30" x2="40.5" y2="209.30" stroke="#222" stroke-width="0.8"/>
<text x="33.9" y="212.60000000000002" font-size="9.8" text-anchor="end" fill="#1a1a1a" font-weight="normal" font-style="normal" stroke="#1a1a1a" stroke-width="0.22" >25</text>
<line x1="38.7" y1="303.98" x2="40.5" y2="303.98" stroke="#222" stroke-width="0.7"/>
<line x1="38.7" y1="282.94" x2="40.5" y2="282.94" stroke="#222" stroke-width="0.7"/>
<line x1="38.7" y1="261.90" x2="40.5" y2="261.90" stroke="#222" stroke-width="0.7"/>
<line x1="38.7" y1="240.86" x2="40.5" y2="240.86" stroke="#222" stroke-width="0.7"/>
<line x1="38.7" y1="219.82" x2="40.5" y2="219.82" stroke="#222" stroke-width="0.7"/>
<line x1="40.50" y1="314.5" x2="40.50" y2="317.7" stroke="#222" stroke-width="0.8"/>
<text x="40.9" y="328" font-size="10" text-anchor="middle" fill="#1a1a1a" font-weight="normal" font-style="normal" stroke="#1a1a1a" stroke-width="0.22" >0.0</text>
<line x1="63.66" y1="314.5" x2="63.66" y2="317.7" stroke="#222" stroke-width="0.8"/>
<text x="64.1" y="328" font-size="10" text-anchor="middle" fill="#1a1a1a" font-weight="normal" font-style="normal" stroke="#1a1a1a" stroke-width="0.22" >0.2</text>
<line x1="86.82" y1="314.5" x2="86.82" y2="317.7" stroke="#222" stroke-width="0.8"/>
<text x="87.2" y="328" font-size="10" text-anchor="middle" fill="#1a1a1a" font-weight="normal" font-style="normal" stroke="#1a1a1a" stroke-width="0.22" >0.4</text>
<line x1="109.98" y1="314.5" x2="109.98" y2="317.7" stroke="#222" stroke-width="0.8"/>
<text x="110.4" y="328" font-size="10" text-anchor="middle" fill="#1a1a1a" font-weight="normal" font-style="normal" stroke="#1a1a1a" stroke-width="0.22" >0.6</text>
<line x1="133.14" y1="314.5" x2="133.14" y2="317.7" stroke="#222" stroke-width="0.8"/>
<text x="133.5" y="328" font-size="10" text-anchor="middle" fill="#1a1a1a" font-weight="normal" font-style="normal" stroke="#1a1a1a" stroke-width="0.22" >0.8</text>
<line x1="156.30" y1="314.5" x2="156.30" y2="317.7" stroke="#222" stroke-width="0.8"/>
<text x="156.7" y="328" font-size="10" text-anchor="middle" fill="#1a1a1a" font-weight="normal" font-style="normal" stroke="#1a1a1a" stroke-width="0.22" >1.0</text>
<line x1="52.08" y1="314.5" x2="52.08" y2="316.3" stroke="#222" stroke-width="0.7"/>
<line x1="75.24" y1="314.5" x2="75.24" y2="316.3" stroke="#222" stroke-width="0.7"/>
<line x1="98.40" y1="314.5" x2="98.40" y2="316.3" stroke="#222" stroke-width="0.7"/>
<line x1="121.56" y1="314.5" x2="121.56" y2="316.3" stroke="#222" stroke-width="0.7"/>
<line x1="144.72" y1="314.5" x2="144.72" y2="316.3" stroke="#222" stroke-width="0.7"/>
<line x1="167.88" y1="314.5" x2="167.88" y2="316.3" stroke="#222" stroke-width="0.7"/>
<text x="82.6" y="343.9" font-size="10.8" text-anchor="start" fill="#1a1a1a" font-weight="normal" font-style="normal" textLength="50.8" lengthAdjust="spacingAndGlyphs" stroke="#1a1a1a" stroke-width="0.22" >Voltage (<tspan font-style="italic">V</tspan>)</text>
<text transform="translate(13.7,323.7) rotate(-90)" font-size="11.3" textLength="123.5" lengthAdjust="spacingAndGlyphs" stroke="#1a1a1a" stroke-width="0.2" fill="#1a1a1a">Current density (mA cm<tspan font-size="65%" baseline-shift="3.2px">&#8722;2</tspan>)</text>
<line x1="48.2" y1="260.2" x2="60.2" y2="260.2" stroke="#c9952b" stroke-width="0.9"/>
<circle cx="54.2" cy="260.2" r="1.3" fill="#c9952b"/>
<text x="64.8" y="263.4" font-size="9.8" text-anchor="start" fill="#1a1a1a" font-weight="normal" font-style="normal" textLength="31.9" lengthAdjust="spacingAndGlyphs" stroke="#1a1a1a" stroke-width="0.22" >RS:ZnO</text>
<line x1="48.2" y1="271.5" x2="60.2" y2="271.5" stroke="#2b4aa8" stroke-width="0.9"/>
<circle cx="54.2" cy="271.5" r="1.3" fill="#2b4aa8"/>
<text x="64.8" y="274.7" font-size="9.8" text-anchor="start" fill="#1a1a1a" font-weight="normal" font-style="normal" textLength="31.9" lengthAdjust="spacingAndGlyphs" stroke="#1a1a1a" stroke-width="0.22" >FS:ZnO</text>
<line x1="48.2" y1="283.3" x2="60.2" y2="283.3" stroke="#e0152b" stroke-width="0.9"/>
<circle cx="54.2" cy="283.3" r="1.3" fill="#e0152b"/>
<text x="64.8" y="286.5" font-size="9.8" text-anchor="start" fill="#1a1a1a" font-weight="normal" font-style="normal" textLength="79.5" lengthAdjust="spacingAndGlyphs" stroke="#1a1a1a" stroke-width="0.22" >RS:ZnO-MgO-EA<tspan font-size="65%" baseline-shift="2.6px">+</tspan></text>
<line x1="48.2" y1="295.9" x2="60.2" y2="295.9" stroke="#1a1a1a" stroke-width="0.9"/>
<circle cx="54.2" cy="295.9" r="1.3" fill="#1a1a1a"/>
<text x="64.8" y="299.09999999999997" font-size="9.8" text-anchor="start" fill="#1a1a1a" font-weight="normal" font-style="normal" textLength="79.5" lengthAdjust="spacingAndGlyphs" stroke="#1a1a1a" stroke-width="0.22" >FS:ZnO-MgO-EA<tspan font-size="65%" baseline-shift="2.6px">+</tspan></text>
</g>
<g id="panel-e">
<text x="201.4" y="191.5" font-size="10.8" text-anchor="start" fill="#000" font-weight="bold" font-style="normal" stroke="#000" stroke-width="0.22" >e</text>
<polygon points="210.40,306.60 229.00,289.00 306.60,289.00 288.00,306.60" fill="#e5e5e5" stroke="none" stroke-width="0" opacity="1.0"/>
<polygon points="210.40,306.60 288.00,306.60 288.00,327.40 210.40,327.40" fill="#dddddd" stroke="none" stroke-width="0" opacity="1.0"/>
<polygon points="288.00,306.60 306.60,289.00 306.60,309.80 288.00,327.40" fill="#cacaca" stroke="none" stroke-width="0" opacity="1.0"/>
<polygon points="210.40,295.00 229.00,277.40 307.10,277.40 288.50,295.00" fill="#a9c9dc" stroke="none" stroke-width="0" opacity="0.92"/>
<polygon points="210.40,295.00 288.50,295.00 288.50,297.20 210.40,297.20" fill="#93b7cd" stroke="none" stroke-width="0" opacity="0.92"/>
<polygon points="288.50,295.00 307.10,277.40 307.10,279.60 288.50,297.20" fill="#86aabf" stroke="none" stroke-width="0" opacity="0.92"/>
<polygon points="210.40,264.00 229.00,246.40 307.60,246.40 289.00,264.00" fill="#e0696c" stroke="none" stroke-width="0" opacity="1.0"/>
<polygon points="210.40,264.00 289.00,264.00 289.00,289.30 210.40,289.30" fill="#d8525b" stroke="none" stroke-width="0" opacity="1.0"/>
<polygon points="289.00,264.00 307.60,246.40 307.60,271.70 289.00,289.30" fill="#cb4a54" stroke="none" stroke-width="0" opacity="1.0"/>
<polygon points="210.40,245.40 229.00,227.80 305.60,227.80 287.00,245.40" fill="#dc86d0" stroke="none" stroke-width="0" opacity="0.8"/>
<polygon points="210.40,245.40 287.00,245.40 287.00,253.70 210.40,253.70" fill="#c254a6" stroke="none" stroke-width="0" opacity="0.8"/>
<polygon points="287.00,245.40 305.60,227.80 305.60,236.10 287.00,253.70" fill="#b850a0" stroke="none" stroke-width="0" opacity="0.8"/>
<polygon points="210.40,234.00 229.00,216.40 305.60,216.40 287.00,234.00" fill="#f6ea3c" stroke="none" stroke-width="0" opacity="0.95"/>
<polygon points="210.40,234.00 287.00,234.00 287.00,236.20 210.40,236.20" fill="#e8d92e" stroke="none" stroke-width="0" opacity="0.95"/>
<polygon points="287.00,234.00 305.60,216.40 305.60,218.60 287.00,236.20" fill="#d9cb2a" stroke="none" stroke-width="0" opacity="0.95"/>
<polygon points="210.40,215.00 229.00,197.40 305.60,197.40 287.00,215.00" fill="#ababab" stroke="none" stroke-width="0" opacity="1.0"/>
<polygon points="210.40,215.00 287.00,215.00 287.00,220.20 210.40,220.20" fill="#c4c4c4" stroke="none" stroke-width="0" opacity="1.0"/>
<polygon points="287.00,215.00 305.60,197.40 305.60,202.60 287.00,220.20" fill="#9a9a9a" stroke="none" stroke-width="0" opacity="1.0"/>
<text x="245.8" y="218" font-size="10.9" text-anchor="start" fill="#222" font-weight="normal" font-style="normal" textLength="12.6" lengthAdjust="spacingAndGlyphs" stroke="#222" stroke-width="0.22" >Ag</text>
<text x="230.5" y="236.6" font-size="10.9" text-anchor="start" fill="#222" font-weight="normal" font-style="normal" textLength="43" lengthAdjust="spacingAndGlyphs" stroke="#222" stroke-width="0.22" >Interlayer</text>
<text x="236.8" y="253.8" font-size="10.9" text-anchor="start" fill="#3a1020" font-weight="normal" font-style="normal" textLength="30" lengthAdjust="spacingAndGlyphs" stroke="#3a1020" stroke-width="0.22" >PCBM</text>
<text x="228.4" y="279.6" font-size="10.9" text-anchor="start" fill="#3a1015" font-weight="normal" font-style="normal" textLength="46.9" lengthAdjust="spacingAndGlyphs" stroke="#3a1015" stroke-width="0.22" >Perovskite</text>
<text x="239.1" y="299.7" font-size="10.9" text-anchor="start" fill="#222" font-weight="normal" font-style="normal" textLength="25.9" lengthAdjust="spacingAndGlyphs" stroke="#222" stroke-width="0.22" >NiO<tspan font-size="72%" baseline-shift="-3.2px">X</tspan></text>
<text x="242.6" y="322.7" font-size="10.9" text-anchor="start" fill="#222" font-weight="normal" font-style="normal" textLength="18.6" lengthAdjust="spacingAndGlyphs" stroke="#222" stroke-width="0.22" >ITO</text>
</g>
<g id="panel-f">
<text x="331" y="186" font-size="10.8" text-anchor="start" fill="#000" font-weight="bold" font-style="normal" stroke="#000" stroke-width="0.22" >f</text>
<clipPath id="clipf"><rect x="361.2" y="204.5" width="153.59999999999997" height="110.10000000000002"/></clipPath>
<path d="M361.52 223.01 L361.77 222.99 L362.02 222.97 L362.28 222.93 L362.53 222.88 L362.78 222.81 L363.04 222.71 L363.29 222.58 L363.54 222.42 L363.80 222.22 L364.05 221.98 L364.30 221.71 L364.56 221.42 L364.81 221.13 L365.06 220.84 L365.32 220.59 L365.57 220.39 L365.82 220.26 L366.08 220.21 L366.33 220.24 L366.58 220.35 L366.84 220.53 L367.09 220.77 L367.34 221.04 L367.60 221.33 L367.85 221.61 L368.10 221.87 L368.36 222.10 L368.61 222.30 L368.86 222.46 L369.12 222.59 L369.37 222.68 L369.62 222.75 L369.88 222.80 L370.13 222.83 L370.38 222.85 L370.64 222.86 L370.89 222.86 L371.14 222.87 L371.40 222.87 L371.65 222.87 L371.90 222.87 L372.16 222.87 L372.41 222.87 L372.66 222.87 L372.92 222.87 L373.17 222.87 L373.42 222.87 L373.68 222.87 L373.93 222.87 L374.18 222.88 L374.44 222.88 L374.69 222.88 L374.94 222.88 L375.20 222.88 L375.45 222.88 L375.70 222.88 L375.96 222.88 L376.21 222.89 L376.46 222.89 L376.72 222.89 L376.97 222.89 L377.22 222.89 L377.48 222.90 L377.73 222.90 L377.98 222.90 L378.24 222.90 L378.49 222.91 L378.74 222.91 L379.00 222.91 L379.25 222.91 L379.50 222.92 L379.76 222.92 L380.01 222.92 L380.26 222.92 L380.52 222.93 L380.77 222.93 L381.02 222.93 L381.28 222.94 L381.53 222.94 L381.78 222.94 L382.04 222.94 L382.29 222.95 L382.54 222.95 L382.80 222.95 L383.05 222.96 L383.30 222.96 L383.56 222.96 L383.81 222.97 L384.07 222.97 L384.32 222.97 L384.57 222.98 L384.83 222.98 L385.08 222.98 L385.33 222.99 L385.59 222.99 L385.84 222.99 L386.09 223.00 L386.35 223.00 L386.60 223.00 L386.85 223.00 L387.11 223.01 L387.36 223.01 L387.61 223.01 L387.87 223.02 L388.12 223.02 L388.37 223.02 L388.63 223.03 L388.88 223.03 L389.13 223.03 L389.39 223.04 L389.64 223.04 L389.89 223.04 L390.15 223.04 L390.40 223.05 L390.65 223.05 L390.91 223.05 L391.16 223.05 L391.41 223.06 L391.67 223.06 L391.92 223.06 L392.17 223.06 L392.43 223.07 L392.68 223.07 L392.93 223.07 L393.19 223.07 L393.44 223.07 L393.69 223.08 L393.95 223.08 L394.20 223.08 L394.45 223.08 L394.71 223.08 L394.96 223.09 L395.21 223.09 L395.47 223.09 L395.72 223.09 L395.97 223.09 L396.23 223.09 L396.48 223.10 L396.73 223.10 L396.99 223.10 L397.24 223.10 L397.49 223.10 L397.75 223.11 L398.00 223.11 L398.25 223.11 L398.51 223.11 L398.76 223.11 L399.01 223.11 L399.27 223.12 L399.52 223.12 L399.77 223.12 L400.03 223.12 L400.28 223.12 L400.53 223.13 L400.79 223.13 L401.04 223.13 L401.29 223.13 L401.55 223.13 L401.80 223.13 L402.05 223.14 L402.31 223.14 L402.56 223.14 L402.81 223.14 L403.07 223.14 L403.32 223.14 L403.57 223.15 L403.83 223.15 L404.08 223.15 L404.33 223.15 L404.59 223.15 L404.84 223.15 L405.09 223.16 L405.35 223.16 L405.60 223.16 L405.85 223.16 L406.11 223.16 L406.36 223.16 L406.61 223.17 L406.87 223.17 L407.12 223.17 L407.37 223.17 L407.63 223.17 L407.88 223.17 L408.13 223.18 L408.39 223.18 L408.64 223.18 L408.89 223.18 L409.15 223.18 L409.40 223.18 L409.65 223.19 L409.91 223.19 L410.16 223.19 L410.41 223.19 L410.67 223.19 L410.92 223.19 L411.17 223.20 L411.43 223.20 L411.68 223.20 L411.93 223.20 L412.19 223.20 L412.44 223.20 L412.69 223.21 L412.95 223.21 L413.20 223.21 L413.45 223.21 L413.71 223.21 L413.96 223.21 L414.21 223.22 L414.47 223.22 L414.72 223.22 L414.97 223.22 L415.23 223.22 L415.48 223.23 L415.73 223.23 L415.99 223.23 L416.24 223.23 L416.49 223.23 L416.75 223.24 L417.00 223.24 L417.25 223.24 L417.51 223.24 L417.76 223.24 L418.01 223.24 L418.27 223.25 L418.52 223.25 L418.78 223.25 L419.03 223.25 L419.28 223.25 L419.54 223.26 L419.79 223.26 L420.04 223.26 L420.30 223.26 L420.55 223.27 L420.80 223.27 L421.06 223.27 L421.31 223.27 L421.56 223.27 L421.82 223.27 L422.07 223.28 L422.32 223.28 L422.58 223.28 L422.83 223.28 L423.08 223.28 L423.34 223.29 L423.59 223.29 L423.84 223.29 L424.10 223.29 L424.35 223.29 L424.60 223.29 L424.86 223.30 L425.11 223.30 L425.36 223.30 L425.62 223.30 L425.87 223.30 L426.12 223.30 L426.38 223.31 L426.63 223.31 L426.88 223.31 L427.14 223.31 L427.39 223.31 L427.64 223.31 L427.90 223.32 L428.15 223.32 L428.40 223.32 L428.66 223.32 L428.91 223.32 L429.16 223.33 L429.42 223.33 L429.67 223.33 L429.92 223.33 L430.18 223.33 L430.43 223.34 L430.68 223.34 L430.94 223.34 L431.19 223.34 L431.44 223.34 L431.70 223.35 L431.95 223.35 L432.20 223.35 L432.46 223.35 L432.71 223.36 L432.96 223.36 L433.22 223.36 L433.47 223.36 L433.72 223.37 L433.98 223.37 L434.23 223.37 L434.48 223.37 L434.74 223.38 L434.99 223.38 L435.24 223.38 L435.50 223.39 L435.75 223.39 L436.00 223.39 L436.26 223.40 L436.51 223.40 L436.76 223.40 L437.02 223.41 L437.27 223.41 L437.52 223.41 L437.78 223.42 L438.03 223.42 L438.28 223.43 L438.54 223.43 L438.79 223.43 L439.04 223.44 L439.30 223.44 L439.55 223.45 L439.80 223.45 L440.06 223.46 L440.31 223.46 L440.56 223.47 L440.82 223.48 L441.07 223.49 L441.32 223.50 L441.58 223.51 L441.83 223.52 L442.08 223.53 L442.34 223.54 L442.59 223.56 L442.84 223.57 L443.10 223.59 L443.35 223.60 L443.60 223.62 L443.86 223.64 L444.11 223.66 L444.36 223.68 L444.62 223.70 L444.87 223.72 L445.12 223.74 L445.38 223.76 L445.63 223.78 L445.88 223.81 L446.14 223.83 L446.39 223.86 L446.64 223.88 L446.90 223.91 L447.15 223.93 L447.40 223.96 L447.66 223.98 L447.91 224.01 L448.16 224.04 L448.42 224.07 L448.67 224.09 L448.92 224.12 L449.18 224.15 L449.43 224.18 L449.68 224.21 L449.94 224.24 L450.19 224.27 L450.44 224.30 L450.70 224.33 L450.95 224.36 L451.20 224.39 L451.46 224.42 L451.71 224.45 L451.96 224.48 L452.22 224.51 L452.47 224.54 L452.72 224.57 L452.98 224.60 L453.23 224.64 L453.49 224.67 L453.74 224.71 L453.99 224.74 L454.25 224.78 L454.50 224.82 L454.75 224.86 L455.01 224.90 L455.26 224.94 L455.51 224.98 L455.77 225.02 L456.02 225.07 L456.27 225.11 L456.53 225.15 L456.78 225.20 L457.03 225.25 L457.29 225.30 L457.54 225.35 L457.79 225.40 L458.05 225.45 L458.30 225.50 L458.55 225.56 L458.81 225.61 L459.06 225.67 L459.31 225.73 L459.57 225.79 L459.82 225.85 L460.07 225.91 L460.33 225.97 L460.58 226.04 L460.83 226.10 L461.09 226.17 L461.34 226.24 L461.59 226.31 L461.85 226.39 L462.10 226.46 L462.35 226.53 L462.61 226.61 L462.86 226.69 L463.11 226.77 L463.37 226.86 L463.62 226.96 L463.87 227.38 L464.13 227.50 L464.38 227.64 L464.63 227.77 L464.89 227.92 L465.14 228.07 L465.39 228.22 L465.65 228.38 L465.90 228.55 L466.15 228.72 L466.41 228.89 L466.66 229.07 L466.91 228.64 L467.17 228.83 L467.42 229.02 L467.67 229.22 L467.93 229.42 L468.18 229.63 L468.43 229.84 L468.69 230.07 L468.94 230.32 L469.19 230.57 L469.45 230.84 L469.70 231.12 L469.95 231.42 L470.21 231.72 L470.46 232.04 L470.71 232.37 L470.97 232.72 L471.22 233.07 L471.47 233.43 L471.73 233.81 L471.98 234.20 L472.23 234.59 L472.49 235.00 L472.74 235.42 L472.99 235.85 L473.25 236.31 L473.50 236.80 L473.75 237.31 L474.01 237.84 L474.26 238.40 L474.51 238.99 L474.77 239.59 L475.02 240.23 L475.27 240.88 L475.53 241.56 L475.78 242.27 L476.03 242.99 L476.29 243.75 L476.54 244.57 L476.79 245.45 L477.05 246.40 L477.30 247.40 L477.55 248.46 L477.81 249.57 L478.06 250.72 L478.31 251.95 L478.57 253.26 L478.82 254.67 L479.07 256.16 L479.33 257.74 L479.58 259.46 L479.83 261.32 L480.09 263.32 L480.34 265.43 L480.59 267.63 L480.85 269.90 L481.10 272.21 L481.35 274.56 L481.61 276.91 L481.86 279.24 L482.11 281.55 L482.37 283.80 L482.62 285.97 L482.87 288.06 L483.13 290.13 L483.38 292.18 L483.63 294.21 L483.89 296.23 L484.14 298.24 L484.39 300.24 L484.65 302.24 L484.90 304.24 L485.15 306.24 L485.41 308.25 L485.66 310.28 L485.91 312.31 L486.17 314.36 L486.42 316.42 L486.67 318.50 L486.93 320.57 L487.18 322.66 L487.43 324.75 L487.69 326.84 L487.94 328.93 L488.19 331.02" fill="none" stroke="#111" stroke-width="1.0" clip-path="url(#clipf)" stroke-linejoin="round"/>
<g fill="#111" clip-path="url(#clipf)"><circle cx="361.52" cy="223.01" r="1.55"/><circle cx="364.26" cy="221.75" r="1.55"/><circle cx="367.01" cy="220.69" r="1.55"/><circle cx="369.76" cy="222.78" r="1.55"/><circle cx="372.51" cy="222.87" r="1.55"/><circle cx="375.25" cy="222.88" r="1.55"/><circle cx="378.00" cy="222.90" r="1.55"/><circle cx="380.75" cy="222.93" r="1.55"/><circle cx="383.49" cy="222.96" r="1.55"/><circle cx="386.24" cy="223.00" r="1.55"/><circle cx="388.99" cy="223.03" r="1.55"/><circle cx="391.74" cy="223.06" r="1.55"/><circle cx="394.48" cy="223.08" r="1.55"/><circle cx="397.23" cy="223.10" r="1.55"/><circle cx="399.98" cy="223.12" r="1.55"/><circle cx="402.72" cy="223.14" r="1.55"/><circle cx="405.47" cy="223.16" r="1.55"/><circle cx="408.22" cy="223.18" r="1.55"/><circle cx="410.97" cy="223.19" r="1.55"/><circle cx="413.71" cy="223.21" r="1.55"/><circle cx="416.46" cy="223.23" r="1.55"/><circle cx="419.21" cy="223.25" r="1.55"/><circle cx="421.96" cy="223.28" r="1.55"/><circle cx="424.70" cy="223.29" r="1.55"/><circle cx="427.45" cy="223.31" r="1.55"/><circle cx="430.20" cy="223.33" r="1.55"/><circle cx="432.94" cy="223.36" r="1.55"/><circle cx="435.69" cy="223.39" r="1.55"/><circle cx="438.44" cy="223.43" r="1.55"/><circle cx="441.19" cy="223.49" r="1.55"/><circle cx="443.93" cy="223.65" r="1.55"/><circle cx="446.68" cy="223.88" r="1.55"/><circle cx="449.43" cy="224.18" r="1.55"/><circle cx="452.18" cy="224.50" r="1.55"/><circle cx="454.92" cy="224.88" r="1.55"/><circle cx="457.67" cy="225.37" r="1.55"/><circle cx="460.42" cy="226.00" r="1.55"/><circle cx="463.16" cy="226.79" r="1.55"/><circle cx="465.91" cy="228.55" r="1.55"/><circle cx="468.66" cy="230.05" r="1.55"/><circle cx="471.41" cy="233.34" r="1.55"/><circle cx="474.15" cy="238.16" r="1.55"/><circle cx="476.90" cy="245.84" r="1.55"/><circle cx="479.65" cy="259.94" r="1.55"/><circle cx="482.40" cy="284.03" r="1.55"/><circle cx="485.14" cy="306.15" r="1.55"/></g>
<path d="M362.74 222.38 L362.99 222.37 L363.24 222.37 L363.49 222.36 L363.74 222.35 L363.99 222.35 L364.24 222.34 L364.49 222.34 L364.74 222.33 L365.00 222.33 L365.25 222.32 L365.50 222.32 L365.75 222.31 L366.00 222.31 L366.25 222.31 L366.50 222.30 L366.75 222.30 L367.00 222.29 L367.25 222.29 L367.50 222.29 L367.76 222.28 L368.01 222.28 L368.26 222.28 L368.51 222.27 L368.76 222.27 L369.01 222.27 L369.26 222.26 L369.51 222.26 L369.76 222.26 L370.01 222.26 L370.26 222.26 L370.52 222.25 L370.77 222.25 L371.02 222.25 L371.27 222.25 L371.52 222.25 L371.77 222.25 L372.02 222.25 L372.27 222.25 L372.52 222.25 L372.77 222.25 L373.02 222.25 L373.28 222.25 L373.53 222.25 L373.78 222.25 L374.03 222.25 L374.28 222.25 L374.53 222.25 L374.78 222.26 L375.03 222.26 L375.28 222.26 L375.53 222.26 L375.78 222.26 L376.04 222.26 L376.29 222.26 L376.54 222.27 L376.79 222.27 L377.04 222.27 L377.29 222.27 L377.54 222.27 L377.79 222.28 L378.04 222.28 L378.29 222.28 L378.54 222.28 L378.80 222.29 L379.05 222.29 L379.30 222.29 L379.55 222.29 L379.80 222.30 L380.05 222.30 L380.30 222.30 L380.55 222.30 L380.80 222.31 L381.05 222.31 L381.30 222.31 L381.56 222.32 L381.81 222.32 L382.06 222.32 L382.31 222.33 L382.56 222.33 L382.81 222.33 L383.06 222.33 L383.31 222.34 L383.56 222.34 L383.81 222.34 L384.07 222.35 L384.32 222.35 L384.57 222.35 L384.82 222.36 L385.07 222.36 L385.32 222.36 L385.57 222.37 L385.82 222.37 L386.07 222.37 L386.32 222.38 L386.57 222.38 L386.83 222.38 L387.08 222.39 L387.33 222.39 L387.58 222.39 L387.83 222.39 L388.08 222.40 L388.33 222.40 L388.58 222.40 L388.83 222.41 L389.08 222.41 L389.33 222.41 L389.59 222.42 L389.84 222.42 L390.09 222.42 L390.34 222.42 L390.59 222.43 L390.84 222.43 L391.09 222.43 L391.34 222.43 L391.59 222.44 L391.84 222.44 L392.09 222.44 L392.35 222.44 L392.60 222.44 L392.85 222.45 L393.10 222.45 L393.35 222.45 L393.60 222.45 L393.85 222.45 L394.10 222.46 L394.35 222.46 L394.60 222.46 L394.85 222.46 L395.11 222.46 L395.36 222.47 L395.61 222.47 L395.86 222.47 L396.11 222.47 L396.36 222.47 L396.61 222.48 L396.86 222.48 L397.11 222.48 L397.36 222.48 L397.61 222.48 L397.87 222.48 L398.12 222.49 L398.37 222.49 L398.62 222.49 L398.87 222.49 L399.12 222.49 L399.37 222.50 L399.62 222.50 L399.87 222.50 L400.12 222.50 L400.37 222.50 L400.63 222.50 L400.88 222.51 L401.13 222.51 L401.38 222.51 L401.63 222.51 L401.88 222.51 L402.13 222.51 L402.38 222.52 L402.63 222.52 L402.88 222.52 L403.13 222.52 L403.39 222.52 L403.64 222.52 L403.89 222.53 L404.14 222.53 L404.39 222.53 L404.64 222.53 L404.89 222.53 L405.14 222.53 L405.39 222.54 L405.64 222.54 L405.89 222.54 L406.15 222.54 L406.40 222.54 L406.65 222.54 L406.90 222.54 L407.15 222.55 L407.40 222.55 L407.65 222.55 L407.90 222.55 L408.15 222.55 L408.40 222.55 L408.65 222.56 L408.91 222.56 L409.16 222.56 L409.41 222.56 L409.66 222.56 L409.91 222.56 L410.16 222.57 L410.41 222.57 L410.66 222.57 L410.91 222.57 L411.16 222.57 L411.41 222.57 L411.67 222.58 L411.92 222.58 L412.17 222.58 L412.42 222.58 L412.67 222.58 L412.92 222.59 L413.17 222.59 L413.42 222.59 L413.67 222.59 L413.92 222.59 L414.17 222.59 L414.43 222.60 L414.68 222.60 L414.93 222.60 L415.18 222.60 L415.43 222.60 L415.68 222.60 L415.93 222.61 L416.18 222.61 L416.43 222.61 L416.68 222.61 L416.93 222.61 L417.19 222.62 L417.44 222.62 L417.69 222.62 L417.94 222.62 L418.19 222.62 L418.44 222.63 L418.69 222.63 L418.94 222.63 L419.19 222.63 L419.44 222.63 L419.70 222.64 L419.95 222.64 L420.20 222.64 L420.45 222.64 L420.70 222.64 L420.95 222.65 L421.20 222.65 L421.45 222.65 L421.70 222.65 L421.95 222.65 L422.20 222.66 L422.46 222.66 L422.71 222.66 L422.96 222.66 L423.21 222.66 L423.46 222.66 L423.71 222.67 L423.96 222.67 L424.21 222.67 L424.46 222.67 L424.71 222.67 L424.96 222.67 L425.22 222.68 L425.47 222.68 L425.72 222.68 L425.97 222.68 L426.22 222.68 L426.47 222.68 L426.72 222.69 L426.97 222.69 L427.22 222.69 L427.47 222.69 L427.72 222.69 L427.98 222.69 L428.23 222.70 L428.48 222.70 L428.73 222.70 L428.98 222.70 L429.23 222.70 L429.48 222.71 L429.73 222.71 L429.98 222.71 L430.23 222.71 L430.48 222.71 L430.74 222.72 L430.99 222.72 L431.24 222.72 L431.49 222.72 L431.74 222.72 L431.99 222.73 L432.24 222.73 L432.49 222.73 L432.74 222.73 L432.99 222.74 L433.24 222.74 L433.50 222.74 L433.75 222.74 L434.00 222.75 L434.25 222.75 L434.50 222.75 L434.75 222.75 L435.00 222.76 L435.25 222.76 L435.50 222.76 L435.75 222.77 L436.00 222.77 L436.26 222.77 L436.51 222.78 L436.76 222.78 L437.01 222.78 L437.26 222.79 L437.51 222.79 L437.76 222.80 L438.01 222.80 L438.26 222.80 L438.51 222.81 L438.76 222.81 L439.02 222.82 L439.27 222.82 L439.52 222.82 L439.77 222.83 L440.02 222.83 L440.27 222.84 L440.52 222.85 L440.77 222.85 L441.02 222.86 L441.27 222.87 L441.52 222.88 L441.78 222.89 L442.03 222.90 L442.28 222.92 L442.53 222.93 L442.78 222.95 L443.03 222.96 L443.28 222.98 L443.53 222.99 L443.78 223.01 L444.03 223.03 L444.28 223.05 L444.54 223.07 L444.79 223.09 L445.04 223.11 L445.29 223.13 L445.54 223.15 L445.79 223.18 L446.04 223.20 L446.29 223.22 L446.54 223.25 L446.79 223.27 L447.04 223.30 L447.30 223.32 L447.55 223.35 L447.80 223.38 L448.05 223.40 L448.30 223.43 L448.55 223.46 L448.80 223.49 L449.05 223.51 L449.30 223.54 L449.55 223.57 L449.80 223.60 L450.06 223.63 L450.31 223.66 L450.56 223.69 L450.81 223.72 L451.06 223.75 L451.31 223.78 L451.56 223.81 L451.81 223.84 L452.06 223.87 L452.31 223.90 L452.56 223.93 L452.82 223.96 L453.07 223.99 L453.32 224.03 L453.57 224.06 L453.82 224.10 L454.07 224.13 L454.32 224.17 L454.57 224.21 L454.82 224.25 L455.07 224.29 L455.33 224.33 L455.58 224.37 L455.83 224.41 L456.08 224.45 L456.33 224.50 L456.58 224.54 L456.83 224.59 L457.08 224.64 L457.33 224.68 L457.58 224.73 L457.83 224.78 L458.09 224.83 L458.34 224.89 L458.59 224.94 L458.84 225.00 L459.09 225.05 L459.34 225.11 L459.59 225.17 L459.84 225.23 L460.09 225.29 L460.34 225.36 L460.59 225.42 L460.85 225.49 L461.10 225.55 L461.35 225.62 L461.60 225.69 L461.85 225.76 L462.10 225.84 L462.35 225.91 L462.60 225.99 L462.85 226.07 L463.10 226.15 L463.35 226.23 L463.61 226.33 L463.86 226.43 L464.11 226.53 L464.36 226.65 L464.61 226.77 L464.86 226.89 L465.11 227.02 L465.36 227.16 L465.61 227.30 L465.86 227.45 L466.11 227.60 L466.37 227.76 L466.62 227.93 L466.87 228.10 L467.12 228.27 L467.37 228.45 L467.62 228.63 L467.87 228.82 L468.12 229.01 L468.37 229.21 L468.62 229.41 L468.87 229.61 L469.13 229.82 L469.38 230.05 L469.63 230.29 L469.88 230.54 L470.13 230.81 L470.38 231.09 L470.63 231.38 L470.88 231.68 L471.13 231.99 L471.38 232.32 L471.63 232.66 L471.89 233.00 L472.14 233.36 L472.39 233.73 L472.64 234.11 L472.89 234.50 L473.14 234.90 L473.39 235.31 L473.64 235.74 L473.89 236.19 L474.14 236.66 L474.39 237.16 L474.65 237.68 L474.90 238.23 L475.15 238.80 L475.40 239.40 L475.65 240.02 L475.90 240.66 L476.15 241.32 L476.40 242.01 L476.65 242.72 L476.90 243.46 L477.15 244.24 L477.41 245.09 L477.66 246.01 L477.91 246.98 L478.16 248.00 L478.41 249.08 L478.66 250.20 L478.91 251.38 L479.16 252.64 L479.41 253.99 L479.66 255.42 L479.91 256.95 L480.17 258.58 L480.42 260.35 L480.67 262.26 L480.92 264.30 L481.17 266.43 L481.42 268.64 L481.67 270.91 L481.92 273.22 L482.17 275.54 L482.42 277.87 L482.67 280.17 L482.93 282.43 L483.18 284.63 L483.43 286.75 L483.68 288.81 L483.93 290.86 L484.18 292.88 L484.43 294.88 L484.68 296.88 L484.93 298.87 L485.18 300.85 L485.43 302.83 L485.69 304.81 L485.94 306.80 L486.19 308.79 L486.44 310.80 L486.69 312.81 L486.94 314.85 L487.19 316.89 L487.44 318.95 L487.69 321.01 L487.94 323.07 L488.19 325.14" fill="none" stroke="#dc1a26" stroke-width="1.1" clip-path="url(#clipf)" stroke-linejoin="round"/>
<g fill="#dc1a26" clip-path="url(#clipf)"><circle cx="362.74" cy="222.38" r="1.6"/><circle cx="365.48" cy="222.32" r="1.6"/><circle cx="368.23" cy="222.28" r="1.6"/><circle cx="370.98" cy="222.25" r="1.6"/><circle cx="373.73" cy="222.25" r="1.6"/><circle cx="376.47" cy="222.27" r="1.6"/><circle cx="379.22" cy="222.29" r="1.6"/><circle cx="381.97" cy="222.32" r="1.6"/><circle cx="384.72" cy="222.36" r="1.6"/><circle cx="387.46" cy="222.39" r="1.6"/><circle cx="390.21" cy="222.42" r="1.6"/><circle cx="392.96" cy="222.45" r="1.6"/><circle cx="395.70" cy="222.47" r="1.6"/><circle cx="398.45" cy="222.49" r="1.6"/><circle cx="401.20" cy="222.51" r="1.6"/><circle cx="403.95" cy="222.53" r="1.6"/><circle cx="406.69" cy="222.54" r="1.6"/><circle cx="409.44" cy="222.56" r="1.6"/><circle cx="412.19" cy="222.58" r="1.6"/><circle cx="414.94" cy="222.60" r="1.6"/><circle cx="417.68" cy="222.62" r="1.6"/><circle cx="420.43" cy="222.64" r="1.6"/><circle cx="423.18" cy="222.66" r="1.6"/><circle cx="425.92" cy="222.68" r="1.6"/><circle cx="428.67" cy="222.70" r="1.6"/><circle cx="431.42" cy="222.72" r="1.6"/><circle cx="434.17" cy="222.75" r="1.6"/><circle cx="436.91" cy="222.78" r="1.6"/><circle cx="439.66" cy="222.83" r="1.6"/><circle cx="442.41" cy="222.92" r="1.6"/><circle cx="445.15" cy="223.12" r="1.6"/><circle cx="447.90" cy="223.39" r="1.6"/><circle cx="450.65" cy="223.70" r="1.6"/><circle cx="453.40" cy="224.04" r="1.6"/><circle cx="456.14" cy="224.46" r="1.6"/><circle cx="458.89" cy="225.01" r="1.6"/><circle cx="461.64" cy="225.70" r="1.6"/><circle cx="464.39" cy="226.66" r="1.6"/><circle cx="467.13" cy="228.28" r="1.6"/><circle cx="469.88" cy="230.55" r="1.6"/><circle cx="472.63" cy="234.10" r="1.6"/><circle cx="475.37" cy="239.34" r="1.6"/><circle cx="478.12" cy="247.85" r="1.6"/><circle cx="480.87" cy="263.89" r="1.6"/><circle cx="483.62" cy="288.30" r="1.6"/><circle cx="486.36" cy="310.19" r="1.6"/></g>
<rect x="361.2" y="204.5" width="153.59999999999997" height="109.10000000000002" fill="none" stroke="#444" stroke-width="0.9"/>
<line x1="358.2" y1="301.80" x2="361.2" y2="301.80" stroke="#333" stroke-width="0.8"/>
<text x="356.2" y="304.7" font-size="8.7" text-anchor="end" fill="#1a1a1a" font-weight="normal" font-style="normal" stroke="#1a1a1a" stroke-width="0.22" >0</text>
<line x1="358.2" y1="282.35" x2="361.2" y2="282.35" stroke="#333" stroke-width="0.8"/>
<text x="356.2" y="285.25" font-size="8.7" text-anchor="end" fill="#1a1a1a" font-weight="normal" font-style="normal" stroke="#1a1a1a" stroke-width="0.22" >5</text>
<line x1="358.2" y1="262.90" x2="361.2" y2="262.90" stroke="#333" stroke-width="0.8"/>
<text x="356.2" y="265.8" font-size="8.7" text-anchor="end" fill="#1a1a1a" font-weight="normal" font-style="normal" stroke="#1a1a1a" stroke-width="0.22" >10</text>
<line x1="358.2" y1="243.45" x2="361.2" y2="243.45" stroke="#333" stroke-width="0.8"/>
<text x="356.2" y="246.35000000000002" font-size="8.7" text-anchor="end" fill="#1a1a1a" font-weight="normal" font-style="normal" stroke="#1a1a1a" stroke-width="0.22" >15</text>
<line x1="358.2" y1="224.00" x2="361.2" y2="224.00" stroke="#333" stroke-width="0.8"/>
<text x="356.2" y="226.9" font-size="8.7" text-anchor="end" fill="#1a1a1a" font-weight="normal" font-style="normal" stroke="#1a1a1a" stroke-width="0.22" >20</text>
<line x1="358.2" y1="204.55" x2="361.2" y2="204.55" stroke="#333" stroke-width="0.8"/>
<text x="356.2" y="207.45000000000002" font-size="8.7" text-anchor="end" fill="#1a1a1a" font-weight="normal" font-style="normal" stroke="#1a1a1a" stroke-width="0.22" >25</text>
<line x1="359.59999999999997" y1="311.53" x2="361.2" y2="311.53" stroke="#333" stroke-width="0.7"/>
<line x1="359.59999999999997" y1="292.07" x2="361.2" y2="292.07" stroke="#333" stroke-width="0.7"/>
<line x1="359.59999999999997" y1="272.62" x2="361.2" y2="272.62" stroke="#333" stroke-width="0.7"/>
<line x1="359.59999999999997" y1="253.18" x2="361.2" y2="253.18" stroke="#333" stroke-width="0.7"/>
<line x1="359.59999999999997" y1="233.73" x2="361.2" y2="233.73" stroke="#333" stroke-width="0.7"/>
<line x1="359.59999999999997" y1="214.28" x2="361.2" y2="214.28" stroke="#333" stroke-width="0.7"/>
<line x1="372.20" y1="313.6" x2="372.20" y2="316.6" stroke="#333" stroke-width="0.8"/>
<text x="372.0" y="325" font-size="8.4" text-anchor="middle" fill="#1a1a1a" font-weight="normal" font-style="normal" stroke="#1a1a1a" stroke-width="0.22" >0.0</text>
<line x1="392.55" y1="313.6" x2="392.55" y2="316.6" stroke="#333" stroke-width="0.8"/>
<text x="392.4" y="325" font-size="8.4" text-anchor="middle" fill="#1a1a1a" font-weight="normal" font-style="normal" stroke="#1a1a1a" stroke-width="0.22" >0.2</text>
<line x1="412.90" y1="313.6" x2="412.90" y2="316.6" stroke="#333" stroke-width="0.8"/>
<text x="412.7" y="325" font-size="8.4" text-anchor="middle" fill="#1a1a1a" font-weight="normal" font-style="normal" stroke="#1a1a1a" stroke-width="0.22" >0.4</text>
<line x1="433.25" y1="313.6" x2="433.25" y2="316.6" stroke="#333" stroke-width="0.8"/>
<text x="433.1" y="325" font-size="8.4" text-anchor="middle" fill="#1a1a1a" font-weight="normal" font-style="normal" stroke="#1a1a1a" stroke-width="0.22" >0.6</text>
<line x1="453.60" y1="313.6" x2="453.60" y2="316.6" stroke="#333" stroke-width="0.8"/>
<text x="453.4" y="325" font-size="8.4" text-anchor="middle" fill="#1a1a1a" font-weight="normal" font-style="normal" stroke="#1a1a1a" stroke-width="0.22" >0.8</text>
<line x1="473.95" y1="313.6" x2="473.95" y2="316.6" stroke="#333" stroke-width="0.8"/>
<text x="473.8" y="325" font-size="8.4" text-anchor="middle" fill="#1a1a1a" font-weight="normal" font-style="normal" stroke="#1a1a1a" stroke-width="0.22" >1.0</text>
<line x1="494.30" y1="313.6" x2="494.30" y2="316.6" stroke="#333" stroke-width="0.8"/>
<text x="494.1" y="325" font-size="8.4" text-anchor="middle" fill="#1a1a1a" font-weight="normal" font-style="normal" stroke="#1a1a1a" stroke-width="0.22" >1.2</text>
<line x1="514.65" y1="313.6" x2="514.65" y2="316.6" stroke="#333" stroke-width="0.8"/>
<text x="514.4" y="325" font-size="8.4" text-anchor="middle" fill="#1a1a1a" font-weight="normal" font-style="normal" stroke="#1a1a1a" stroke-width="0.22" >1.4</text>
<line x1="362.02" y1="313.6" x2="362.02" y2="315.20000000000005" stroke="#333" stroke-width="0.7"/>
<line x1="382.38" y1="313.6" x2="382.38" y2="315.20000000000005" stroke="#333" stroke-width="0.7"/>
<line x1="402.73" y1="313.6" x2="402.73" y2="315.20000000000005" stroke="#333" stroke-width="0.7"/>
<line x1="423.07" y1="313.6" x2="423.07" y2="315.20000000000005" stroke="#333" stroke-width="0.7"/>
<line x1="443.43" y1="313.6" x2="443.43" y2="315.20000000000005" stroke="#333" stroke-width="0.7"/>
<line x1="463.77" y1="313.6" x2="463.77" y2="315.20000000000005" stroke="#333" stroke-width="0.7"/>
<line x1="484.12" y1="313.6" x2="484.12" y2="315.20000000000005" stroke="#333" stroke-width="0.7"/>
<line x1="504.48" y1="313.6" x2="504.48" y2="315.20000000000005" stroke="#333" stroke-width="0.7"/>
<text x="413.2" y="340.4" font-size="10.8" text-anchor="start" fill="#1a1a1a" font-weight="normal" font-style="normal" textLength="50.3" lengthAdjust="spacingAndGlyphs" stroke="#1a1a1a" stroke-width="0.22" >Voltage (<tspan font-style="italic">V</tspan>)</text>
<text transform="translate(339.7,323.3) rotate(-90)" font-size="11.3" textLength="123.1" lengthAdjust="spacingAndGlyphs" stroke="#1a1a1a" stroke-width="0.2" fill="#1a1a1a">Current density (mA cm<tspan font-size="65%" baseline-shift="3.2px">&#8722;2</tspan>)</text>
<line x1="386.6" y1="259.5" x2="399.4" y2="259.5" stroke="#111" stroke-width="1"/>
<circle cx="393" cy="259.5" r="1.5" fill="#111"/>
<text x="402.5" y="262.5" font-size="9.3" text-anchor="start" fill="#1a1a1a" font-weight="normal" font-style="normal" textLength="10.0" lengthAdjust="spacingAndGlyphs" stroke="#1a1a1a" stroke-width="0.22" >FS</text>
<line x1="386.6" y1="269.9" x2="399.4" y2="269.9" stroke="#dc1a26" stroke-width="1"/>
<circle cx="393" cy="269.9" r="1.5" fill="#dc1a26"/>
<text x="402.5" y="272.9" font-size="9.3" text-anchor="start" fill="#1a1a1a" font-weight="normal" font-style="normal" textLength="10.7" lengthAdjust="spacingAndGlyphs" stroke="#1a1a1a" stroke-width="0.22" >RS</text>
<text x="389.5" y="292.4" font-size="9.8" text-anchor="start" fill="#1a1a1a" font-weight="normal" font-style="normal" textLength="74.4" lengthAdjust="spacingAndGlyphs" stroke="#1a1a1a" stroke-width="0.22" >PCBM/Phen-I/Ag</text>
<line x1="453" y1="233.3" x2="461.27" y2="239.64" stroke="#1a1a1a" stroke-width="1.0"/>
<polygon points="464.60,242.20 460.17,241.07 462.36,238.22" fill="#1a1a1a" stroke="none" stroke-width="0" opacity="1"/>
<line x1="485.5" y1="232.8" x2="476.97" y2="225.36" stroke="#1a1a1a" stroke-width="1.0"/>
<polygon points="473.80,222.60 478.15,224.00 475.78,226.72" fill="#1a1a1a" stroke="none" stroke-width="0" opacity="1"/>
</g>
</svg>
</body></html>
